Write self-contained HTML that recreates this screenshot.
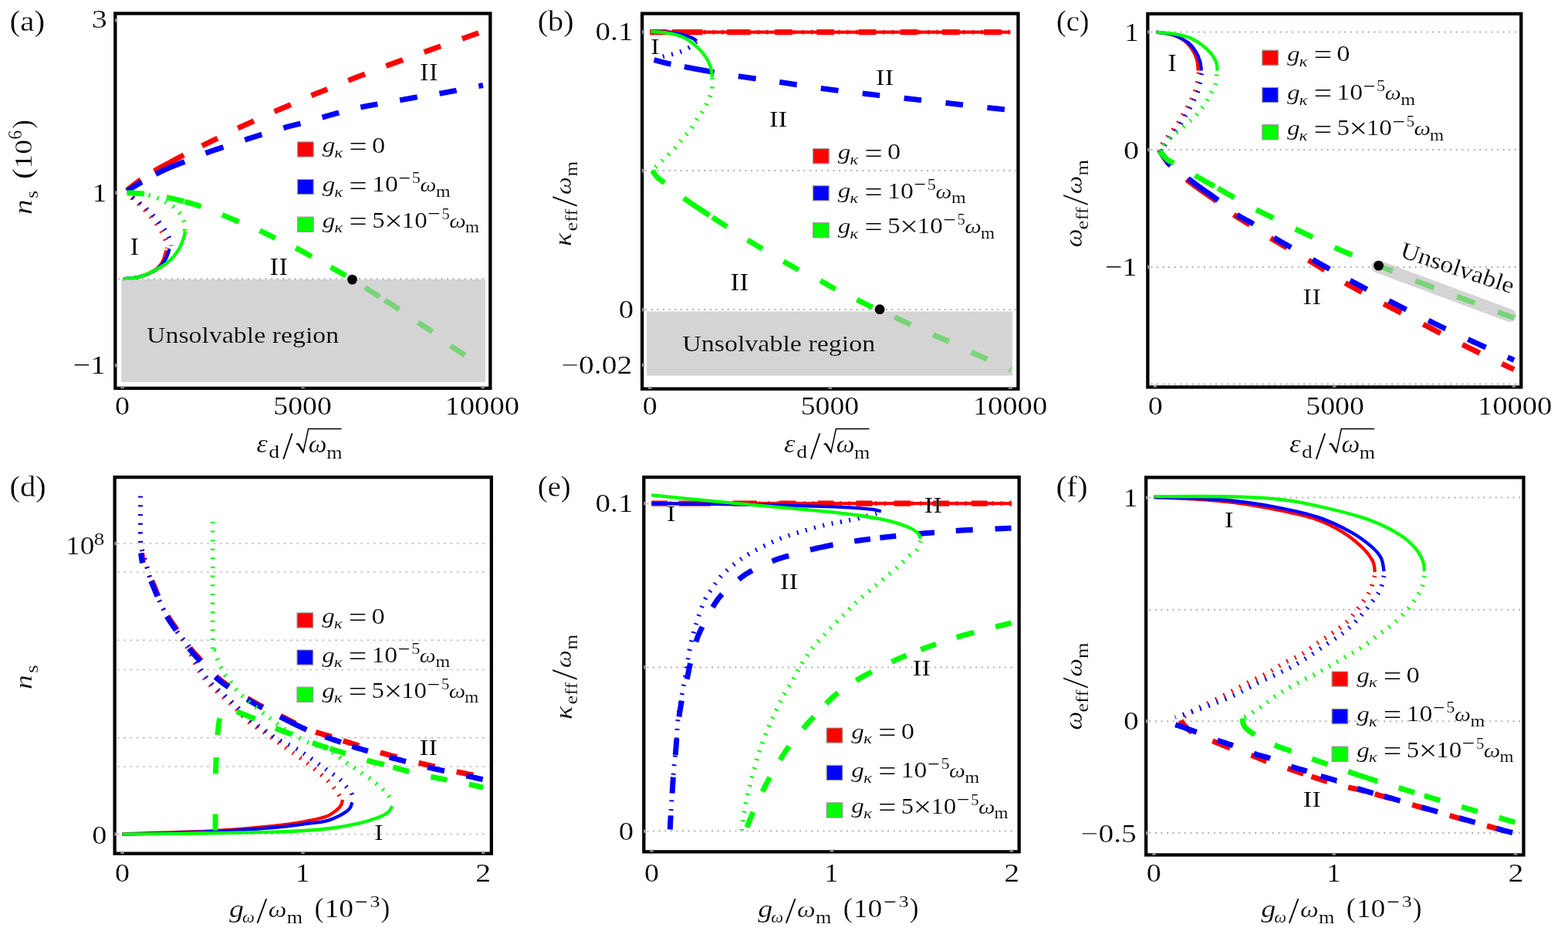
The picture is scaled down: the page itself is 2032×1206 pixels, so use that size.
<!DOCTYPE html>
<html><head><meta charset="utf-8"><title>Figure</title>
<style>html,body{margin:0;padding:0;background:#fff;}svg{display:block;}text{fill:#000;stroke:#fff;stroke-width:0.007em;}text.g{stroke:#d4d4d4;}</style>
</head><body>
<svg width="2032" height="1206" viewBox="0 0 2032 1206" font-family="Liberation Serif, serif">
<rect width="2032" height="1206" fill="#fff"/>
<g fill="none" stroke-linecap="butt" stroke-linejoin="round">
<line x1="153.5" y1="361.2" x2="632.2" y2="361.2" stroke="#b0b0b0" stroke-width="2" stroke-dasharray="2 5.6"/>
<path d="M164.5,246.5 L164.88,246.21 L165.32,245.87 L165.8,245.49 L166.33,245.07 L166.91,244.62 L167.52,244.14 L168.18,243.63 L168.86,243.09 L169.57,242.53 L170.31,241.95 L171.07,241.35 L171.86,240.74 L172.65,240.12 L173.46,239.5 L174.28,238.87 L175.11,238.23 L175.93,237.6 L176.76,236.98 L177.58,236.36 L178.39,235.75 L179.2,235.16 L179.98,234.59 L180.75,234.03 L181.5,233.5 L182.24,232.98 L182.4,232.87 M199.8,221.6 L200.57,221.14 L201.34,220.69 L202.12,220.24 L202.89,219.79 L203.67,219.35 L204.45,218.91 L205.23,218.48 L206.01,218.04 L206.8,217.62 L207.58,217.19 L208.36,216.77 L209.14,216.34 L209.93,215.92 L210.71,215.51 L211.49,215.09 L212.26,214.68 L213.04,214.27 L213.81,213.85 L214.59,213.44 L215.35,213.03 L216.12,212.63 L216.88,212.22 L217.64,211.81 L218.4,211.4 M218.4,211.4 L219.15,211 L219.88,210.6 L220.6,210.21 L221.32,209.82 L222.02,209.44 L222.72,209.06 L223.41,208.68 L224.1,208.31 L224.79,207.94 L225.48,207.57 L226.17,207.2 L226.86,206.82 L227.56,206.45 L228.26,206.07 L228.98,205.69 L229.7,205.31 L230.43,204.92 L231.17,204.53 L231.93,204.13 L232.71,203.72 L233.5,203.3 L234.31,202.88 L235.15,202.44 L236,202 L236.88,201.54 L237.78,201.08 L238.26,200.83 M261.76,188.93 L261.95,188.83 L262.92,188.35 L263.89,187.88 L264.86,187.4 L265.82,186.93 L266.78,186.47 L267.74,186 L268.7,185.54 L269.65,185.07 L270.61,184.61 L271.56,184.15 L272.52,183.69 L273.47,183.23 L274.42,182.77 L275.37,182.31 L276.32,181.85 L277.27,181.39 L278.23,180.93 L279.18,180.47 L280.13,180 L281.09,179.54 L282,179.09 M308.19,166.17 L308.51,166.02 M308.51,166.02 L308.9,165.84 L309.86,165.39 L310.83,164.94 L311.79,164.5 L312.76,164.06 L313.73,163.62 L314.7,163.18 L315.67,162.74 L316.64,162.3 L317.61,161.87 L318.58,161.43 L319.55,161 L320.52,160.56 L321.49,160.13 L322.47,159.69 L323.44,159.25 L324.41,158.81 L325.39,158.37 L326.37,157.93 L327.34,157.49 L328.32,157.05 L329.01,156.73 M355.56,144.58 L355.99,144.39 L356.18,144.31 M356.18,144.31 L356.98,143.97 L357.98,143.54 L358.98,143.11 L359.98,142.69 L360.98,142.27 L361.98,141.85 L362.98,141.43 L363.98,141.01 L364.98,140.59 L365.98,140.17 L366.98,139.75 L367.99,139.33 L368.99,138.91 L369.99,138.49 L370.99,138.07 L371.99,137.65 L373,137.22 L374,136.79 L375,136.37 L376,135.93 L376.9,135.54 M403.42,123.8 L404.03,123.54 L405.05,123.13 L406.06,122.72 L407.08,122.31 L408.1,121.91 L409.11,121.51 L410.13,121.11 L411.15,120.71 L412.17,120.31 L413.19,119.91 L414.21,119.52 L415.23,119.12 L416.25,118.72 L417.27,118.33 L418.29,117.93 L419.31,117.53 L420.33,117.13 L421.35,116.73 L422.36,116.32 L423.38,115.92 L424.34,115.53 M451.29,104.28 L451.52,104.19 L452,104 M452,104 L452.53,103.79 L453.54,103.39 L454.55,102.99 L455.56,102.6 L456.58,102.2 L457.59,101.81 L458.6,101.42 L459.62,101.03 L460.63,100.64 L461.64,100.25 L462.66,99.86 L463.67,99.47 L464.69,99.09 L465.7,98.7 L466.71,98.31 L467.73,97.93 L468.74,97.54 L469.75,97.15 L470.77,96.77 L471.78,96.38 L472.79,95.99 L473,95.91 M500.26,85.46 L501,85.19 M501,85.19 L501.08,85.16 L502.11,84.78 L503.14,84.4 L504.17,84.02 L505.21,83.65 L506.24,83.27 L507.28,82.89 L508.32,82.52 L509.36,82.14 L510.4,81.77 L511.44,81.39 L512.48,81.02 L513.52,80.65 L514.56,80.27 L515.59,79.9 L516.63,79.53 L517.66,79.16 L518.69,78.78 L519.72,78.41 L520.75,78.04 L521.78,77.67 L522.15,77.53 M549.6,67.56 L550.01,67.41 M550.01,67.41 L550.08,67.39 L551.11,67.02 L552.14,66.64 L553.17,66.27 L554.21,65.9 L555.24,65.52 L556.28,65.15 L557.32,64.77 L558.36,64.4 L559.4,64.02 L560.44,63.65 L561.48,63.28 L562.52,62.91 L563.56,62.53 L564.59,62.16 L565.63,61.79 L566.66,61.42 L567.69,61.06 L568.72,60.69 L569.75,60.32 L570.78,59.96 L571.18,59.82 M598.98,50.15 L599.64,49.92 L600.95,49.46 L602.31,48.99 L603.69,48.5 L605.11,48 L606.53,47.5 L607.97,46.99 L609.41,46.48 L610.84,45.98 L612.26,45.48 L613.66,44.98 L615.03,44.5 L616.37,44.03 L617.66,43.57 L618.89,43.13 L620.08,42.72 L620.2,42.67" stroke="#ff0000" stroke-width="7" fill="none" />
<path d="M159.3,361.2 C162.92,360.77 174.38,360.3 181,358.6 C187.62,356.9 194.67,353.35 199,351 C203.33,348.65 204.83,347 207,344.5 C209.17,342 210.6,339.35 212,336 C213.4,332.65 214.83,326.33 215.4,324.4" stroke="#ff0000" stroke-width="4.3" />
<path d="M216.2,321.6 C216.19,320.67 216.77,318.62 216.12,316 C215.48,313.38 213.89,309.28 212.35,305.9 C210.81,302.52 209.18,299.3 206.88,295.7 C204.57,292.1 201.29,287.82 198.5,284.3 C195.71,280.78 192.85,277.58 190.12,274.6 C187.4,271.62 184.94,269.05 182.15,266.4 C179.36,263.75 176.38,261.52 173.38,258.7 C170.37,255.88 165.65,251.03 164.1,249.5" stroke="#ff0000" stroke-width="5.8" stroke-dasharray="2 9.6" stroke-dashoffset="1" />
<path d="M164.5,247.5 L164.92,247.24 L165.4,246.94 L165.94,246.61 L166.54,246.24 L167.18,245.84 L167.86,245.41 L168.59,244.95 L169.35,244.48 L170.15,243.98 L170.97,243.47 L171.82,242.94 L172.69,242.4 L173.57,241.85 L174.47,241.3 L175.37,240.74 L176.28,240.18 L177.19,239.62 L178.09,239.07 L178.99,238.52 L179.87,237.99 L180.74,237.46 L181.59,236.96 L182.41,236.47 L183.2,236 L183.67,235.72 M201.8,225.6 L202.57,225.21 L203.33,224.82 L204.09,224.43 L204.85,224.05 L205.6,223.67 L206.36,223.3 L207.11,222.93 L207.86,222.56 L208.61,222.19 L209.37,221.83 L210.12,221.47 L210.87,221.12 L211.62,220.77 L212.37,220.41 L213.13,220.07 L213.88,219.72 L214.64,219.37 L215.4,219.03 L216.16,218.69 L216.92,218.35 L217.68,218.01 L218.44,217.68 M218.44,217.68 L218.45,217.67 L219.22,217.34 L220,217 L220.77,216.67 L221.53,216.35 L222.28,216.04 L223.02,215.73 L223.75,215.44 L224.48,215.15 L225.2,214.86 L225.93,214.57 L226.66,214.29 L227.39,214.01 L228.12,213.73 L228.87,213.44 L229.62,213.16 L230.39,212.87 L231.17,212.57 L231.96,212.27 L232.77,211.96 L233.6,211.64 L234.45,211.32 L235.33,210.98 L236.23,210.63 L237.16,210.27 L238.11,209.89 L239.1,209.5 L239.35,209.4 M266.43,198.47 L267.06,198.23 L268.2,197.8 M268.2,197.8 L269.32,197.39 L270.42,196.98 L271.51,196.59 L272.58,196.21 L273.65,195.83 L274.7,195.47 L275.74,195.11 L276.78,194.76 L277.81,194.41 L278.83,194.07 L279.85,193.73 L280.86,193.39 L281.87,193.06 L282.88,192.73 L283.88,192.4 L284.89,192.08 L285.89,191.75 L286.89,191.42 L287.9,191.09 L288.91,190.76 L289.5,190.57 M317.17,181.24 L317.9,181 M317.9,181 L318.92,180.67 L319.93,180.34 L320.94,180.01 L321.94,179.69 L322.95,179.37 L323.94,179.05 L324.94,178.73 L325.93,178.41 L326.93,178.1 L327.92,177.79 L328.91,177.47 L329.9,177.16 L330.89,176.85 L331.89,176.54 L332.88,176.23 L333.88,175.92 L334.88,175.61 L335.88,175.3 L336.89,174.98 L337.9,174.67 L338.92,174.35 L339.35,174.22 M367.29,165.72 L367.7,165.6 M367.7,165.6 L368.74,165.31 L369.77,165.02 L370.8,164.74 L371.82,164.46 L372.84,164.19 L373.86,163.92 L374.87,163.65 L375.88,163.39 L376.88,163.12 L377.89,162.86 L378.89,162.61 L379.89,162.35 L380.9,162.09 L381.9,161.84 L382.9,161.58 L383.9,161.33 L384.9,161.07 L385.91,160.81 L386.92,160.55 L387.93,160.29 L388.94,160.02 L389.46,159.88 M417.59,152.04 L418.04,151.91 L419.08,151.61 L420.12,151.32 L421.16,151.02 L422.2,150.73 L423.24,150.43 L424.28,150.13 L425.32,149.84 L426.36,149.54 L427.4,149.24 L428.44,148.95 L429.48,148.65 L430.52,148.35 L431.56,148.06 L432.6,147.77 L433.64,147.47 L434.69,147.18 L435.73,146.89 L436.77,146.61 L437.82,146.32 L438.86,146.04 L439.24,145.93 M467.3,139 L468.34,138.78 L469.37,138.56 L470.4,138.35 L471.43,138.14 L472.45,137.94 L473.47,137.74 L474.49,137.54 L475.5,137.35 L476.52,137.16 L477.53,136.97 L478.55,136.79 L479.56,136.61 L480.58,136.42 L481.6,136.24 L482.62,136.06 L483.64,135.88 L484.67,135.7 L485.7,135.52 L486.73,135.34 L487.77,135.15 L488.82,134.97 L489.41,134.86 M518.17,129.79 L518.7,129.7 M518.7,129.7 L519.8,129.5 L520.91,129.31 L522.02,129.11 L523.13,128.91 L524.24,128.71 L525.35,128.5 L526.45,128.3 L527.56,128.1 L528.67,127.9 L529.78,127.7 L530.88,127.49 L531.99,127.29 L533.09,127.09 L534.19,126.89 L535.29,126.7 L536.38,126.5 L537.47,126.3 L538.56,126.11 L539.65,125.92 L540.73,125.73 L540.84,125.71 M569.5,121.2 L570.54,121.02 L571.57,120.84 L572.6,120.66 L573.63,120.48 L574.65,120.3 L575.68,120.12 L576.7,119.93 L577.72,119.75 L578.75,119.56 L579.78,119.37 L580.81,119.18 L581.84,118.99 L582.89,118.79 L583.93,118.6 L584.99,118.4 L586.06,118.2 L587.13,117.99 L588.21,117.79 L589.31,117.58 L590.42,117.37 L591.54,117.16 L591.63,117.14 M620.3,111.61 L620.99,111.47 M620.99,111.47 L621.47,111.38 L622.56,111.17 L623.57,110.97 L624.48,110.79 L625.3,110.64 L626,110.5" stroke="#0000ff" stroke-width="7" fill="none" />
<path d="M159.3,361.2 C162.92,360.78 174.05,360.48 181,358.7 C187.95,356.92 196.08,353.28 201,350.5 C205.92,347.72 208,344.92 210.5,342 C213,339.08 214.62,335.83 216,333 C217.38,330.17 218.2,326.8 218.8,325 C219.4,323.2 219.47,322.67 219.6,322.2" stroke="#0000ff" stroke-width="4.3" />
<path d="M222.2,318.4 C222.08,317.53 222.33,315.68 221.48,313.2 C220.62,310.72 218.81,306.75 217.05,303.5 C215.29,300.25 213.45,297.17 210.93,293.7 C208.4,290.23 204.91,286.08 201.9,282.7 C198.89,279.32 195.82,276.25 192.88,273.4 C189.93,270.55 187.26,268.12 184.25,265.6 C181.24,263.08 178.05,260.98 174.82,258.3 C171.6,255.62 166.55,250.97 164.9,249.5" stroke="#0000ff" stroke-width="5.8" stroke-dasharray="2 9.6" stroke-dashoffset="1" />
<path d="M159.3,361.2 C162.93,360.77 174.02,360.55 181.1,358.6 C188.18,356.65 195.58,352.77 201.8,349.5 C208.02,346.23 213.57,343.17 218.4,339 C223.23,334.83 227.52,329.67 230.8,324.5 C234.08,319.33 236.6,312.2 238.1,308 C239.6,303.8 239.52,300.75 239.8,299.3" stroke="#00ff00" stroke-width="4.3" />
<path d="M239.6,298.8 C239.45,297.02 239.67,291.68 238.7,288.1 C237.73,284.52 235.87,280.48 233.8,277.3 C231.73,274.12 229.07,271.35 226.3,269 C223.53,266.65 219.97,264.87 217.2,263.2 C214.43,261.53 212.67,260.38 209.7,259 C206.73,257.62 202.98,256.13 199.4,254.9 C195.82,253.67 192.1,252.38 188.2,251.6 C184.3,250.82 179.95,250.55 176,250.2 C172.05,249.85 166.42,249.62 164.5,249.5" stroke="#00ff00" stroke-width="5.8" stroke-dasharray="2 9.6" />
<path d="M164.5,249.8 L165.03,249.83 L165.64,249.86 L166.31,249.9 L167.04,249.93 L167.83,249.96 L168.68,250 L169.57,250.04 L170.51,250.08 L171.5,250.12 L172.52,250.17 L173.57,250.22 L174.65,250.27 L175.76,250.33 L176.88,250.39 L178.02,250.45 L179.17,250.52 L180.33,250.6 L181.5,250.68 L182.66,250.77 L183.81,250.86 L184.96,250.96 L186.09,251.07 L186.96,251.15 M215.79,255.7 L216.3,255.8 M216.3,255.8 L217.35,256.01 L218.38,256.21 L219.4,256.42 L220.4,256.63 L221.39,256.84 L222.36,257.05 L223.33,257.27 L224.28,257.48 L225.23,257.7 L226.16,257.92 L227.09,258.13 L228.02,258.36 L228.94,258.58 L229.86,258.81 L230.77,259.03 L231.69,259.26 L232.6,259.5 L233.51,259.73 L234.43,259.97 L235.35,260.21 L236.28,260.45 L237.21,260.7 L238.15,260.95 L238.2,260.96 M239.1,261.2 L240.05,261.45 L240.99,261.7 L241.93,261.96 L242.86,262.21 L243.8,262.46 L244.72,262.71 L245.65,262.96 L246.58,263.21 L247.5,263.47 L248.43,263.73 L249.36,263.99 L250.29,264.26 L251.23,264.53 L252.17,264.81 L253.12,265.1 L254.07,265.39 L255.03,265.68 L255.99,265.99 L256.97,266.3 L257.95,266.62 L258.95,266.95 L259.95,267.29 L260.68,267.54 M287.8,278.35 L287.87,278.38 L288.9,278.8 M288.9,278.8 L289.9,279.21 L290.88,279.61 L291.84,280 L292.78,280.38 L293.7,280.76 L294.61,281.13 L295.51,281.5 L296.39,281.86 L297.27,282.22 L298.14,282.58 L299,282.93 L299.86,283.29 L300.72,283.64 L301.58,284 L302.45,284.36 L303.32,284.72 L304.2,285.08 L305.08,285.45 L305.98,285.83 L306.89,286.21 L307.81,286.59 L308.76,286.99 L309.7,287.38 M336.6,298.8 L337.56,299.23 L338.49,299.66 L339.39,300.08 L340.28,300.49 L341.15,300.9 L342,301.3 L342.83,301.71 L343.66,302.1 L344.47,302.5 L345.28,302.9 L346.08,303.29 L346.89,303.69 L347.69,304.09 L348.5,304.49 L349.31,304.89 L350.13,305.3 L350.97,305.71 L351.81,306.13 L352.67,306.55 L353.55,306.98 L354.45,307.42 L355.37,307.87 L356.32,308.33 L356.86,308.59 M383.23,321.12 L384.2,321.6 M384.2,321.6 L385.15,322.08 L386.07,322.55 L386.96,323.01 L387.82,323.46 L388.65,323.9 L389.47,324.33 L390.27,324.76 L391.05,325.18 L391.82,325.6 L392.58,326.01 L393.33,326.42 L394.08,326.84 L394.83,327.25 L395.57,327.67 L396.32,328.09 L397.08,328.51 L397.85,328.94 L398.63,329.38 L399.42,329.82 L400.23,330.27 L401.06,330.74 L401.91,331.21 L402.79,331.7 L403.7,332.2 L403.97,332.35 M428.5,346 L429.39,346.5 L430.28,347 L431.16,347.49 L432.03,347.98 L432.88,348.47 L433.73,348.95 L434.57,349.42 L435.4,349.89 L436.22,350.36 L437.02,350.81 L437.81,351.26 L438.59,351.71 L439.36,352.14 L440.11,352.57 L440.85,352.99 L441.58,353.41 L442.29,353.81 L442.98,354.21 L443.66,354.6 L444.32,354.98 L444.97,355.35 L445.6,355.71 L446.21,356.06 L446.8,356.4 L447.36,356.72 L447.89,357.02 L448.06,357.12 M472.96,372.37 L473.8,372.9 L474.69,373.47 L475.62,374.06 L476.58,374.67 L477.56,375.3 L478.57,375.94 L479.6,376.6 L480.65,377.27 L481.71,377.95 L482.79,378.64 L483.88,379.34 L484.97,380.04 L486.07,380.75 L487.17,381.46 L488.27,382.16 L489.37,382.87 L490.46,383.57 L491.54,384.26 L491.91,384.5 M498.6,388.8 L499.51,389.38 L500.39,389.94 L501.25,390.49 L502.1,391.02 L502.92,391.54 L503.73,392.05 L504.52,392.55 L505.31,393.04 L506.08,393.53 L506.85,394.01 L507.61,394.49 L508.37,394.97 L509.13,395.45 L509.89,395.93 L510.65,396.41 L511.41,396.9 L512.19,397.4 L512.97,397.9 L513.77,398.42 L514.58,398.94 L515.41,399.48 L516.25,400.04 L517.11,400.61 L517.56,400.91 M541.7,417.6 L542.59,418.2 L543.46,418.78 L544.31,419.34 L545.14,419.89 L545.97,420.42 L546.77,420.95 L547.57,421.46 L548.36,421.96 L549.14,422.46 L549.92,422.96 L550.69,423.45 L551.46,423.94 L552.23,424.43 L553,424.92 L553.77,425.42 L554.55,425.93 L555.33,426.44 L556.12,426.96 L556.92,427.49 L557.73,428.04 L558.55,428.6 L559.38,429.18 L560.23,429.78 L560.49,429.97 M583.8,447.8 L584.69,448.43 L585.59,449.06 L586.52,449.7 L587.45,450.34 L588.39,450.97 L589.34,451.6 L590.28,452.23 L591.23,452.85 L592.17,453.46 L593.1,454.07 L594.02,454.66 L594.92,455.24 L595.8,455.8 L596.66,456.35 L597.49,456.87 L598.29,457.38 L599.06,457.87 L599.79,458.33 L600.48,458.76 L601.13,459.17 L601.73,459.55 L602.27,459.9 L602.62,460.12" stroke="#00ff00" stroke-width="7" fill="none" />
<rect x="157.3" y="362" width="471.8" height="132.9" fill="rgb(188,188,188)" fill-opacity="0.643"/>
<circle cx="456.5" cy="362.1" r="6.4" fill="#000"/>
<text x="190.07" y="444.43" font-size="28.68" textLength="249.07" lengthAdjust="spacingAndGlyphs" class="g">Unsolvable region</text>
<text x="168.47" y="330" font-size="30.84" textLength="11.69" lengthAdjust="spacingAndGlyphs">I</text>
<text x="349.33" y="356.4" font-size="30.53" textLength="24" lengthAdjust="spacingAndGlyphs">II</text>
<text x="543.83" y="104.4" font-size="30.53" textLength="24" lengthAdjust="spacingAndGlyphs">II</text>
<rect x="385.6" y="183.9" width="20.6" height="19.2" fill="#ff0000" stroke="#9a9a9a" stroke-width="1.2"/>
<rect x="385.6" y="232.5" width="20.6" height="19.2" fill="#0000ff" stroke="#9a9a9a" stroke-width="1.2"/>
<rect x="385.6" y="281.1" width="20.6" height="19.2" fill="#00ff00" stroke="#9a9a9a" stroke-width="1.2"/>
<text x="417.79" y="197.44" font-size="28.18" font-style="italic" textLength="16.62" lengthAdjust="spacingAndGlyphs">g</text>
<text x="433.34" y="204.2" font-size="19.57" font-style="italic" textLength="11.08" lengthAdjust="spacingAndGlyphs">κ</text>
<text x="452.33" y="201.8" font-size="35.6" textLength="23.69" lengthAdjust="spacingAndGlyphs">=</text>
<text x="482.12" y="197.7" font-size="29.63" textLength="17.26" lengthAdjust="spacingAndGlyphs">0</text>
<text x="417.79" y="248.14" font-size="28.18" font-style="italic" textLength="16.62" lengthAdjust="spacingAndGlyphs">g</text>
<text x="433.34" y="254.9" font-size="19.57" font-style="italic" textLength="11.08" lengthAdjust="spacingAndGlyphs">κ</text>
<text x="452.33" y="252.5" font-size="35.6" textLength="23.69" lengthAdjust="spacingAndGlyphs">=</text>
<text x="482.02" y="248.4" font-size="29.63" textLength="33.83" lengthAdjust="spacingAndGlyphs">10</text>
<text x="516.49" y="240.04" font-size="28" textLength="15.89" lengthAdjust="spacingAndGlyphs">−</text>
<text x="533.87" y="237.39" font-size="20.6" textLength="11.12" lengthAdjust="spacingAndGlyphs">5</text>
<text x="544.47" y="248.44" font-size="25.83" font-style="italic" textLength="20.85" lengthAdjust="spacingAndGlyphs">ω</text>
<text x="565.02" y="254.9" font-size="20.64" textLength="18.69" lengthAdjust="spacingAndGlyphs">m</text>
<text x="417.79" y="294.59" font-size="28.18" font-style="italic" textLength="16.62" lengthAdjust="spacingAndGlyphs">g</text>
<text x="433.34" y="301.35" font-size="19.57" font-style="italic" textLength="11.08" lengthAdjust="spacingAndGlyphs">κ</text>
<text x="452.33" y="298.95" font-size="35.6" textLength="23.69" lengthAdjust="spacingAndGlyphs">=</text>
<text x="482.24" y="294.85" font-size="30.08" textLength="16.38" lengthAdjust="spacingAndGlyphs">5</text>
<text x="498" y="298.73" font-size="37.53" textLength="23.95" lengthAdjust="spacingAndGlyphs">×</text>
<text x="520.58" y="294.85" font-size="29.63" textLength="33.14" lengthAdjust="spacingAndGlyphs">10</text>
<text x="554.32" y="286.49" font-size="28" textLength="16.74" lengthAdjust="spacingAndGlyphs">−</text>
<text x="572.57" y="283.84" font-size="20.6">5</text>
<text x="582.38" y="294.89" font-size="25.83" font-style="italic" textLength="21.52" lengthAdjust="spacingAndGlyphs">ω</text>
<text x="602.94" y="301.35" font-size="20.64" textLength="17.96" lengthAdjust="spacingAndGlyphs">m</text>
<line x1="836.3" y1="221.1" x2="1316.3" y2="221.1" stroke="#b0b0b0" stroke-width="2" stroke-dasharray="2 5.6"/>
<line x1="836.3" y1="401" x2="1316.3" y2="401" stroke="#b0b0b0" stroke-width="2" stroke-dasharray="2 5.6"/>
<path d="M842.5,41.6 L1309.4,41.6" stroke="#ff0000" stroke-width="4.3" />
<path d="M842.5,41.6 L861.95,41.6 L865.1,41.6 M871,41.6 L881.41,41.6 L888,41.6 M888,41.6 L900.86,41.6 L910.6,41.6 M942.2,41.6 L950,41.6 M950,41.6 L959.23,41.6 L972.6,41.6 M1004.2,41.6 L1017.59,41.6 L1026.8,41.6 M1058.4,41.6 L1075.95,41.6 L1081,41.6 M1112.6,41.6 L1114.86,41.6 L1134.31,41.6 L1135.2,41.6 M1166.8,41.6 L1173.22,41.6 L1189.4,41.6 M1221,41.6 L1231.58,41.6 L1243.6,41.6 M1275.2,41.6 L1289.95,41.6 L1297.8,41.6" stroke="#ff0000" stroke-width="7.2" fill="none" />
<path d="M842.5,41.6 L1309.4,41.6" stroke="#ff0000" stroke-width="5.8" stroke-dasharray="2 9.6" />
<path d="M847.6,77.6 L847.88,77.67 L848.2,77.76 L848.56,77.86 L848.96,77.97 L849.39,78.08 L849.85,78.21 L850.34,78.34 L850.85,78.48 L851.38,78.62 L851.93,78.77 L852.5,78.92 L853.08,79.08 L853.67,79.24 L854.27,79.4 L854.87,79.56 L855.47,79.72 L856.08,79.88 L856.67,80.04 L857.26,80.19 L857.84,80.35 L858.41,80.49 L858.96,80.64 L859.49,80.77 L860,80.9 L860.49,81.02 L860.98,81.15 L861.45,81.26 L861.92,81.38 L862.39,81.5 L862.85,81.61 L863.31,81.73 L863.76,81.84 L864.21,81.95 L864.66,82.06 L865.12,82.17 L865.57,82.28 L866.02,82.38 L866.48,82.49 L866.95,82.6 L867.42,82.71 L867.89,82.82 L868.38,82.92 L868.87,83.03 L869.37,83.15 L869.5,83.17 M886.8,86.5 L887.46,86.62 L888.11,86.75 L888.74,86.87 L889.38,86.99 L890,87.1 L890.62,87.22 L891.25,87.34 L891.87,87.46 L892.49,87.57 L893.12,87.69 L893.75,87.81 L894.39,87.93 L895.05,88.05 L895.71,88.18 L896.39,88.3 L897.08,88.43 L897.79,88.57 L898.52,88.7 L899.27,88.84 L900.04,88.98 L900.84,89.13 L901.66,89.28 L902.52,89.44 L903.4,89.6 M903.4,89.6 L904.32,89.77 L905.26,89.94 L906.24,90.12 L907.25,90.31 L908.28,90.5 L909.33,90.69 L910.41,90.89 L911.5,91.09 L912.61,91.29 L913.74,91.5 L914.88,91.71 L916.03,91.92 L917.19,92.13 L918.36,92.34 L919.53,92.55 L920.71,92.77 L921.89,92.98 L923.07,93.19 L924.24,93.4 L925.41,93.6 L925.64,93.64 M956.82,98.73 L957.3,98.8 M957.3,98.8 L958.45,98.97 L959.6,99.14 L960.76,99.31 L961.92,99.48 L963.09,99.65 L964.26,99.82 L965.43,99.98 L966.6,100.15 L967.77,100.31 L968.94,100.48 L970.11,100.64 L971.28,100.8 L972.45,100.96 L973.62,101.12 L974.78,101.28 L975.94,101.44 L977.09,101.6 L978.24,101.76 L979.39,101.92 L979.68,101.96 M1010.2,106.3 L1011.29,106.46 L1012.38,106.62 L1013.47,106.79 L1014.57,106.96 L1015.67,107.12 L1016.78,107.29 L1017.89,107.46 L1019,107.63 L1020.12,107.81 L1021.24,107.98 L1022.36,108.15 L1023.48,108.33 L1024.61,108.5 L1025.73,108.67 L1026.86,108.85 L1027.99,109.02 L1029.11,109.2 L1030.24,109.37 L1031.37,109.54 L1032.5,109.72 L1032.54,109.72 M1063.8,114.36 L1064.1,114.4 M1064.1,114.4 L1065.2,114.55 L1066.29,114.7 L1067.38,114.86 L1068.47,115 L1069.54,115.15 L1070.62,115.3 L1071.69,115.44 L1072.76,115.59 L1073.82,115.73 L1074.89,115.87 L1075.95,116.01 L1077.01,116.15 L1078.08,116.29 L1079.14,116.43 L1080.21,116.57 L1081.28,116.7 L1082.35,116.84 L1083.43,116.98 L1084.51,117.12 L1085.59,117.25 L1086.5,117.37 M1117.7,121 L1118.85,121.13 L1119.99,121.27 L1121.14,121.4 L1122.28,121.54 L1123.43,121.67 L1124.57,121.8 L1125.71,121.94 L1126.86,122.07 L1128,122.21 L1129.14,122.34 L1130.28,122.48 L1131.42,122.61 L1132.56,122.75 L1133.69,122.88 L1134.83,123.01 L1135.97,123.15 L1137.1,123.28 L1138.23,123.41 L1139.37,123.55 L1140.15,123.64 M1171.6,127.2 L1172.7,127.32 L1173.8,127.45 L1174.9,127.57 L1176,127.7 L1177.09,127.82 L1178.19,127.95 L1179.28,128.07 L1180.37,128.2 L1181.47,128.32 L1182.56,128.44 L1183.65,128.57 L1184.74,128.69 L1185.84,128.82 L1186.93,128.94 L1188.03,129.07 L1189.13,129.19 L1190.23,129.32 L1191.33,129.44 L1192.43,129.57 L1193.54,129.69 L1194.06,129.75 M1225.5,133.3 L1226.62,133.43 L1227.74,133.55 L1228.85,133.68 L1229.96,133.8 L1231.07,133.93 L1232.17,134.05 L1233.28,134.18 L1234.37,134.3 L1235.47,134.43 L1236.57,134.55 L1237.66,134.68 L1238.76,134.8 L1239.85,134.92 L1240.95,135.05 L1242.04,135.17 L1243.14,135.3 L1244.24,135.42 L1245.34,135.55 L1246.44,135.67 L1247.54,135.8 L1247.96,135.84 M1279.4,139.4 L1280.63,139.53 L1281.9,139.67 L1283.23,139.82 L1284.6,139.96 L1286,140.12 L1287.42,140.27 L1288.86,140.42 L1290.32,140.58 L1291.78,140.73 L1293.23,140.89 L1294.68,141.04 L1296.11,141.19 L1297.52,141.34 L1298.9,141.49 L1300.23,141.63 L1301.53,141.77 L1301.87,141.8" stroke="#0000ff" stroke-width="7" fill="none" />
<path d="M843.3,41.4 C847.1,41.5 859.18,41.43 866.1,42 C873.02,42.57 879.62,43.6 884.8,44.8 C889.98,46 894.2,47.8 897.2,49.2 C900.2,50.6 901.87,52.53 902.8,53.2" stroke="#0000ff" stroke-width="4.3" />
<path d="M902.4,54 C901.4,54.95 899.3,57.75 896.4,59.7 C893.5,61.65 888.9,64.03 885,65.7 C881.1,67.37 877.15,68.48 873,69.7 C868.85,70.92 864.02,71.92 860.1,73 C856.18,74.08 851.27,75.67 849.5,76.2" stroke="#0000ff" stroke-width="5.8" stroke-dasharray="2 9.6" />
<path d="M843.3,41 C847.1,41.3 859.18,41.63 866.1,42.8 C873.02,43.97 879.27,45.58 884.8,48 C890.33,50.42 894.82,53.67 899.3,57.3 C903.78,60.93 908.25,65.3 911.7,69.8 C915.15,74.3 918.1,79.3 920,84.3 C921.9,89.3 922.58,97.22 923.1,99.8" stroke="#00ff00" stroke-width="4.3" />
<path d="M923.1,100.8 C923.1,101.85 923.27,104.15 923.1,107.1 C922.93,110.05 922.97,114.7 922.1,118.5 C921.23,122.3 919.63,125.93 917.9,129.9 C916.17,133.87 913.95,138.5 911.7,142.3 C909.45,146.1 907.17,148.55 904.4,152.7 C901.63,156.85 898.37,162.72 895.1,167.2 C891.83,171.68 888.25,175.45 884.8,179.6 C881.35,183.75 878.2,187.95 874.4,192.1 C870.6,196.25 865.45,201.05 862,204.5 C858.55,207.95 856.3,210.38 853.7,212.8 C851.1,215.22 847.62,217.97 846.4,219" stroke="#00ff00" stroke-width="5.8" stroke-dasharray="2 9.6" />
<path d="M845.4,221.1 L845.54,221.29 L845.69,221.5 L845.85,221.74 L846.03,222 L846.21,222.29 L846.42,222.59 L846.63,222.91 L846.85,223.25 L847.09,223.6 L847.33,223.97 L847.59,224.35 L847.85,224.73 L848.12,225.12 L848.4,225.52 L848.69,225.92 L848.99,226.33 L849.3,226.73 L849.61,227.13 L849.93,227.53 L850.25,227.92 L850.58,228.31 L850.92,228.68 L851.26,229.05 L851.6,229.4 L851.94,229.74 L852.27,230.05 L852.59,230.36 L852.91,230.65 L853.23,230.92 L853.54,231.2 L853.86,231.46 L854.18,231.73 L854.51,231.99 L854.85,232.26 L855.2,232.53 L855.57,232.81 L855.95,233.1 L856.36,233.4 L856.78,233.72 L857.23,234.05 L857.71,234.41 L858.21,234.79 L858.75,235.19 L859.32,235.63 L859.93,236.09 L860.58,236.59 L861.14,237.03 M886.01,256.52 L886.73,257.05 L887.9,257.9 M887.9,257.9 L889.08,258.74 L890.28,259.59 L891.5,260.45 L892.73,261.31 L893.99,262.17 L895.25,263.04 L896.53,263.91 L897.82,264.78 L899.12,265.65 L900.38,266.49 M900.38,266.49 L900.42,266.52 L901.72,267.38 L903.02,268.24 L904.33,269.1 L905.62,269.96 L906.92,270.8 L908.2,271.64 L909.47,272.48 L910.73,273.3 L911.98,274.11 L913.21,274.92 L914.41,275.71 L915.6,276.49 L916.76,277.25 L917.9,278 L919.01,278.73 L919.26,278.9 M923.14,281.44 L923.23,281.5 L924.23,282.16 L925.23,282.8 L926.21,283.44 L927.18,284.07 L928.14,284.69 L929.09,285.31 L930.04,285.92 L930.99,286.54 L931.94,287.15 L932.89,287.76 L933.84,288.37 L934.79,288.99 L935.76,289.61 L936.73,290.23 L937.71,290.87 L938.71,291.51 L939.72,292.16 L940.75,292.82 L941.8,293.5 L942.12,293.71 M968.7,310.8 L969.65,311.39 L970.57,311.96 L971.46,312.51 L972.32,313.04 L973.15,313.55 L973.96,314.04 L974.76,314.52 L975.53,314.99 L976.3,315.44 L977.05,315.89 L977.8,316.34 L978.55,316.78 L979.3,317.22 L980.05,317.66 L980.8,318.11 L981.57,318.56 L982.34,319.02 L983.14,319.48 L983.95,319.96 L984.78,320.45 L985.64,320.96 L986.53,321.49 L987.45,322.03 L988.09,322.41 M1015.3,338.6 L1016.25,339.15 L1017.16,339.67 L1018.04,340.18 L1018.89,340.67 L1019.71,341.14 L1020.51,341.59 L1021.29,342.04 L1022.05,342.47 L1022.8,342.89 L1023.54,343.31 L1024.28,343.72 L1025.01,344.13 L1025.75,344.54 L1026.49,344.95 L1027.24,345.36 L1028,345.77 L1028.78,346.2 L1029.58,346.63 L1030.41,347.07 L1031.26,347.52 L1032.14,347.99 L1033.05,348.47 L1034.01,348.98 L1035,349.5 L1035.07,349.54 M1063.03,363.64 L1063.06,363.66 L1064.1,364.2 L1065.09,364.73 L1066.04,365.24 L1066.96,365.74 L1067.83,366.22 L1068.68,366.7 L1069.5,367.16 L1070.29,367.62 L1071.07,368.07 L1071.83,368.51 L1072.58,368.94 L1073.31,369.38 L1074.04,369.81 L1074.77,370.23 L1075.5,370.66 L1076.24,371.09 L1076.99,371.52 L1077.74,371.96 L1078.52,372.4 L1079.31,372.84 L1080.13,373.29 L1080.97,373.75 L1081.84,374.23 L1082.74,374.7 M1110.5,388.2 L1111.54,388.7 L1112.58,389.22 L1113.63,389.73 L1114.69,390.26 L1115.75,390.78 L1116.81,391.31 L1117.87,391.83 L1118.92,392.36 L1119.97,392.88 L1121,393.4 L1122.03,393.91 L1123.04,394.41 L1124.03,394.9 L1125,395.38 L1125.95,395.84 L1126.88,396.3 L1127.78,396.73 L1128.65,397.15 L1129.48,397.55 L1130.28,397.93 L1130.79,398.16 M1159.48,410.79 L1159.9,411 M1159.9,411 L1160.75,411.41 L1161.59,411.82 L1162.43,412.23 L1163.26,412.63 L1164.09,413.03 L1164.92,413.43 L1165.75,413.82 L1166.57,414.21 L1167.41,414.61 L1168.24,415 L1169.08,415.4 L1169.92,415.79 L1170.78,416.19 L1171.64,416.59 L1172.51,417 L1173.39,417.41 L1174.29,417.82 L1175.2,418.24 L1176.12,418.66 L1177.06,419.1 L1178.01,419.53 L1178.99,419.98 L1179.98,420.44 L1180.36,420.61 M1209.2,433.5 L1210.25,433.96 L1211.27,434.41 L1212.26,434.85 L1213.24,435.27 L1214.2,435.69 L1215.15,436.1 L1216.07,436.5 L1216.99,436.9 L1217.9,437.29 L1218.8,437.67 L1219.7,438.06 L1220.59,438.44 L1221.48,438.83 L1222.37,439.21 L1223.26,439.6 L1224.16,439.99 L1225.07,440.39 L1225.99,440.79 L1226.91,441.2 L1227.86,441.62 L1228.81,442.05 L1229.79,442.49 L1229.91,442.54 M1258.6,456.1 L1259.61,456.56 L1260.61,457.01 L1261.57,457.45 L1262.52,457.87 L1263.46,458.28 L1264.38,458.69 L1265.28,459.08 L1266.18,459.47 L1267.07,459.86 L1267.96,460.24 L1268.84,460.62 L1269.72,461 L1270.6,461.38 L1271.49,461.76 L1272.38,462.15 L1273.29,462.54 L1274.2,462.93 L1275.13,463.34 L1276.07,463.75 L1277.03,464.17 L1278.01,464.61 L1279.01,465.06 L1279.29,465.18 M1307.94,478.53 L1308.58,478.84 L1309.34,479.19 L1310,479.5" stroke="#00ff00" stroke-width="7" fill="none" />
<rect x="838.1" y="403.4" width="474" height="83.2" fill="rgb(188,188,188)" fill-opacity="0.643"/>
<circle cx="1140.1" cy="400.7" r="6.4" fill="#000"/>
<text x="884.19" y="455.01" font-size="28.79" textLength="250.02" lengthAdjust="spacingAndGlyphs" class="g">Unsolvable region</text>
<text x="843.06" y="69.8" font-size="30.23" textLength="11.81" lengthAdjust="spacingAndGlyphs">I</text>
<text x="996.71" y="164.1" font-size="30.08" textLength="23.64" lengthAdjust="spacingAndGlyphs">II</text>
<text x="1134.81" y="110.2" font-size="30.08" textLength="23.64" lengthAdjust="spacingAndGlyphs">II</text>
<text x="946.16" y="376.2" font-size="30.84" textLength="24.24" lengthAdjust="spacingAndGlyphs">II</text>
<rect x="1053.6" y="192.6" width="20.6" height="19.2" fill="#ff0000" stroke="#9a9a9a" stroke-width="1.2"/>
<rect x="1053.6" y="240.7" width="20.6" height="19.2" fill="#0000ff" stroke="#9a9a9a" stroke-width="1.2"/>
<rect x="1053.6" y="288.6" width="20.6" height="19.2" fill="#00ff00" stroke="#9a9a9a" stroke-width="1.2"/>
<text x="1085.79" y="206.14" font-size="28.18" font-style="italic" textLength="16.62" lengthAdjust="spacingAndGlyphs">g</text>
<text x="1101.34" y="212.9" font-size="19.57" font-style="italic" textLength="11.08" lengthAdjust="spacingAndGlyphs">κ</text>
<text x="1120.33" y="210.5" font-size="35.6" textLength="23.69" lengthAdjust="spacingAndGlyphs">=</text>
<text x="1150.12" y="206.4" font-size="29.63" textLength="17.26" lengthAdjust="spacingAndGlyphs">0</text>
<text x="1085.79" y="256.34" font-size="28.18" font-style="italic" textLength="16.62" lengthAdjust="spacingAndGlyphs">g</text>
<text x="1101.34" y="263.1" font-size="19.57" font-style="italic" textLength="11.08" lengthAdjust="spacingAndGlyphs">κ</text>
<text x="1120.33" y="260.7" font-size="35.6" textLength="23.69" lengthAdjust="spacingAndGlyphs">=</text>
<text x="1150.02" y="256.6" font-size="29.63" textLength="33.83" lengthAdjust="spacingAndGlyphs">10</text>
<text x="1184.49" y="248.24" font-size="28" textLength="15.89" lengthAdjust="spacingAndGlyphs">−</text>
<text x="1201.87" y="245.59" font-size="20.6" textLength="11.12" lengthAdjust="spacingAndGlyphs">5</text>
<text x="1212.47" y="256.64" font-size="25.83" font-style="italic" textLength="20.85" lengthAdjust="spacingAndGlyphs">ω</text>
<text x="1233.02" y="263.1" font-size="20.64" textLength="18.69" lengthAdjust="spacingAndGlyphs">m</text>
<text x="1085.79" y="302.09" font-size="28.18" font-style="italic" textLength="16.62" lengthAdjust="spacingAndGlyphs">g</text>
<text x="1101.34" y="308.85" font-size="19.57" font-style="italic" textLength="11.08" lengthAdjust="spacingAndGlyphs">κ</text>
<text x="1120.33" y="306.45" font-size="35.6" textLength="23.69" lengthAdjust="spacingAndGlyphs">=</text>
<text x="1150.24" y="302.35" font-size="30.08" textLength="16.37" lengthAdjust="spacingAndGlyphs">5</text>
<text x="1166" y="306.23" font-size="37.53" textLength="23.95" lengthAdjust="spacingAndGlyphs">×</text>
<text x="1188.58" y="302.35" font-size="29.63" textLength="33.14" lengthAdjust="spacingAndGlyphs">10</text>
<text x="1222.32" y="293.99" font-size="28" textLength="16.74" lengthAdjust="spacingAndGlyphs">−</text>
<text x="1240.57" y="291.34" font-size="20.6">5</text>
<text x="1250.38" y="302.39" font-size="25.83" font-style="italic" textLength="21.52" lengthAdjust="spacingAndGlyphs">ω</text>
<text x="1270.94" y="308.85" font-size="20.64" textLength="17.96" lengthAdjust="spacingAndGlyphs">m</text>
<line x1="1491.5" y1="41.4" x2="1968.1" y2="41.4" stroke="#b0b0b0" stroke-width="2" stroke-dasharray="2 5.6"/>
<line x1="1491.5" y1="193.9" x2="1968.1" y2="193.9" stroke="#b0b0b0" stroke-width="2" stroke-dasharray="2 5.6"/>
<line x1="1491.5" y1="346" x2="1968.1" y2="346" stroke="#b0b0b0" stroke-width="2" stroke-dasharray="2 5.6"/>
<line x1="1491.5" y1="497.6" x2="1968.1" y2="497.6" stroke="#b0b0b0" stroke-width="2" stroke-dasharray="2 5.6"/>
<path d="M1502.4,194.5 L1502.57,194.76 L1502.77,195.06 L1502.99,195.41 L1503.23,195.78 L1503.5,196.19 L1503.78,196.63 L1504.08,197.09 L1504.39,197.58 L1504.72,198.09 L1505.06,198.61 L1505.41,199.15 L1505.76,199.7 L1506.12,200.26 L1506.49,200.82 L1506.86,201.38 L1507.23,201.94 L1507.6,202.5 L1507.96,203.05 L1508.33,203.58 L1508.68,204.11 L1509.03,204.61 L1509.36,205.1 L1509.69,205.56 L1510,206 L1510.29,206.41 L1510.56,206.8 L1510.81,207.17 L1511.04,207.52 L1511.26,207.86 L1511.47,208.18 L1511.67,208.5 L1511.87,208.8 L1512.07,209.11 L1512.27,209.41 L1512.47,209.71 L1512.68,210.01 L1512.9,210.32 L1513.14,210.64 L1513.4,210.97 L1513.67,211.31 L1513.97,211.66 L1514.3,212.04 L1514.66,212.43 L1515.05,212.85 L1515.47,213.29 L1515.94,213.76 L1516.45,214.27 L1516.81,214.61 M1537.7,232.5 L1538.51,233.15 L1539.3,233.78 L1540.08,234.4 L1540.86,235 L1541.62,235.6 L1542.38,236.18 L1543.13,236.76 L1543.87,237.32 L1544.62,237.88 L1545.35,238.44 L1546.09,238.99 L1546.83,239.53 L1547.56,240.07 L1548.3,240.62 L1549.04,241.16 L1549.78,241.7 L1550.53,242.24 L1551.28,242.79 L1552.05,243.34 L1552.82,243.9 L1553.59,244.46 L1554.38,245.03 L1555.19,245.61 L1556,246.2 M1556,246.2 L1556.83,246.79 L1557.66,247.39 L1558.5,247.98 L1559.35,248.58 L1560.2,249.17 L1561.06,249.77 L1561.93,250.37 L1562.8,250.97 L1563.68,251.57 L1564.56,252.18 L1565.45,252.78 L1566.34,253.39 L1567.23,254.01 L1568.12,254.62 L1569.02,255.24 L1569.92,255.86 L1570.82,256.49 L1571.72,257.12 L1572.62,257.75 L1573.52,258.39 L1574.41,259.04 L1575.31,259.69 L1576.21,260.34 L1576.32,260.42 M1598.8,278 L1599.68,278.62 L1600.55,279.23 L1601.4,279.81 L1602.24,280.38 L1603.07,280.93 L1603.89,281.47 L1604.7,282 L1605.51,282.52 L1606.33,283.03 L1607.14,283.54 L1607.95,284.05 L1608.78,284.56 L1609.61,285.07 L1610.45,285.59 L1611.3,286.12 L1612.17,286.65 L1613.06,287.19 L1613.97,287.75 L1614.91,288.32 L1615.86,288.91 L1616.85,289.53 L1617.87,290.16 L1618.92,290.82 L1619.71,291.32 M1646.64,308.42 L1646.8,308.52 L1648.39,309.5 L1650.03,310.49 L1651.7,311.5 L1653.43,312.54 L1655.24,313.61 L1657.1,314.71 L1659.03,315.85 L1661.01,317.01 L1663.04,318.19 L1665.11,319.39 L1667.22,320.61 L1667.98,321.05 M1695.58,337.04 L1697.47,338.16 L1699.46,339.34 L1701.4,340.5 L1703.29,341.64 L1705.14,342.77 L1706.95,343.88 L1708.73,344.99 L1710.49,346.09 L1712.22,347.18 L1713.93,348.26 L1715.62,349.33 L1716.71,350.03 M1743.3,366.5 L1745.24,367.62 L1747.22,368.74 L1749.22,369.87 L1751.24,371.01 L1753.29,372.15 L1755.35,373.3 L1757.44,374.45 L1759.54,375.6 L1761.66,376.76 L1763.8,377.91 L1764.97,378.55 M1793.13,393.54 L1794,394 M1794,394 L1796.11,395.12 L1798.23,396.23 L1800.35,397.35 L1802.46,398.45 L1804.58,399.56 L1806.7,400.66 L1808.81,401.76 L1810.93,402.86 L1813.05,403.95 L1815.16,405.05 L1815.99,405.47 M1844.35,420.07 L1844.8,420.3 M1844.8,420.3 L1846.91,421.39 L1849.03,422.49 L1851.14,423.59 L1853.25,424.69 L1855.37,425.79 L1857.48,426.89 L1859.59,427.99 L1861.7,429.1 L1863.82,430.2 L1865.93,431.3 L1866.8,431.75 M1895.17,446.33 L1895.5,446.5 M1895.5,446.5 L1897.64,447.57 L1899.84,448.67 L1902.08,449.78 L1904.37,450.9 L1906.68,452.04 L1909.01,453.19 L1911.36,454.34 L1913.72,455.49 L1916.08,456.63 L1917.75,457.44 M1946.3,471.2 L1947.64,471.85 L1948.89,472.45 L1950.06,473 L1951.14,473.52 L1952.15,474 L1953.08,474.44 L1953.95,474.85 L1954.74,475.22 L1955.48,475.57 L1956.16,475.88 L1956.79,476.18 L1957.38,476.44 L1957.91,476.69 L1958.41,476.92 L1958.87,477.13 L1959.3,477.32 L1959.7,477.5 L1960.08,477.68 L1960.44,477.84 L1960.79,478 L1961.12,478.15 L1961.45,478.3 L1961.77,478.45 L1962.1,478.6" stroke="#ff0000" stroke-width="7" fill="none" />
<path d="M1498.3,41.6 C1501.75,42.15 1512.78,42.97 1519,44.9 C1525.22,46.83 1531.1,49.75 1535.6,53.2 C1540.1,56.65 1543.4,61.47 1546,65.6 C1548.6,69.73 1550.07,73.68 1551.2,78 C1552.33,82.32 1552.53,89.25 1552.8,91.5" stroke="#ff0000" stroke-width="4.3" />
<path d="M1553.6,93.9 C1553.25,96.17 1552.37,103.33 1551.5,107.5 C1550.63,111.67 1549.78,115.1 1548.4,118.9 C1547.02,122.7 1545.1,126.5 1543.2,130.3 C1541.3,134.1 1539.07,138.07 1537,141.7 C1534.93,145.33 1532.87,148.65 1530.8,152.1 C1528.73,155.55 1526.85,159.12 1524.6,162.4 C1522.35,165.68 1519.72,168.68 1517.3,171.8 C1514.88,174.92 1512.52,177.82 1510.1,181.1 C1507.68,184.38 1504.02,189.77 1502.8,191.5" stroke="#ff0000" stroke-width="5.8" stroke-dasharray="2 9.6" />
<path d="M1502.4,194.5 L1502.57,194.75 L1502.77,195.04 L1502.99,195.37 L1503.23,195.73 L1503.5,196.12 L1503.78,196.54 L1504.08,196.98 L1504.39,197.45 L1504.72,197.94 L1505.06,198.44 L1505.41,198.96 L1505.76,199.48 L1506.12,200.01 L1506.49,200.55 L1506.86,201.09 L1507.23,201.63 L1507.6,202.16 L1507.96,202.68 L1508.33,203.2 L1508.68,203.7 L1509.03,204.18 L1509.36,204.64 L1509.69,205.08 L1510,205.5 L1510.29,205.89 L1510.55,206.26 L1510.8,206.6 L1511.02,206.93 L1511.23,207.25 L1511.42,207.55 L1511.61,207.84 L1511.79,208.12 L1511.97,208.4 L1512.16,208.68 L1512.35,208.96 L1512.55,209.24 L1512.76,209.52 L1512.99,209.82 L1513.24,210.12 L1513.52,210.44 L1513.82,210.78 L1514.15,211.13 L1514.52,211.51 L1514.93,211.91 L1515.37,212.34 L1515.87,212.79 L1516.41,213.28 L1517,213.8 L1517.39,214.14 M1539.8,231.4 L1540.66,232.04 L1541.5,232.67 L1542.33,233.29 L1543.14,233.9 L1543.95,234.5 L1544.74,235.09 L1545.53,235.67 L1546.31,236.24 L1547.08,236.81 L1547.84,237.37 L1548.6,237.93 L1549.36,238.47 L1550.11,239.02 L1550.86,239.56 L1551.6,240.11 L1552.35,240.64 L1553.09,241.18 L1553.84,241.72 L1554.59,242.26 L1555.34,242.8 L1556.1,243.35 L1556.86,243.89 L1557.63,244.44 L1558.4,245 M1558.4,245 L1559.17,245.55 L1559.93,246.09 L1560.68,246.62 L1561.43,247.15 L1562.17,247.66 L1562.9,248.17 L1563.63,248.68 L1564.36,249.19 L1565.09,249.69 L1565.82,250.19 L1566.55,250.7 L1567.29,251.21 L1568.04,251.73 L1568.79,252.25 L1569.56,252.78 L1570.33,253.33 L1571.12,253.88 L1571.92,254.45 L1572.73,255.03 L1573.57,255.62 L1574.42,256.24 L1575.29,256.87 L1576.18,257.52 L1577.1,258.2 L1578.04,258.9 L1578.63,259.35 M1603,278 L1603.98,278.65 L1604.94,279.28 L1605.88,279.87 L1606.8,280.43 L1607.7,280.97 L1608.6,281.49 L1609.48,282 L1610.35,282.48 L1611.21,282.95 L1612.07,283.42 L1612.93,283.87 L1613.78,284.32 L1614.64,284.77 L1615.5,285.23 L1616.36,285.68 L1617.23,286.14 L1618.11,286.61 L1619,287.09 L1619.91,287.59 L1620.83,288.11 L1621.76,288.64 L1622.72,289.2 L1623.7,289.79 L1624.53,290.29 M1651.14,307.86 L1651.7,308.2 M1651.7,308.2 L1653.34,309.18 L1655.05,310.19 L1656.84,311.24 L1658.69,312.31 L1660.6,313.42 L1662.56,314.55 L1664.58,315.71 L1666.64,316.88 L1668.74,318.07 L1670.88,319.28 L1673.04,320.51 L1673.18,320.59 M1701.01,336.18 L1701.4,336.4 M1701.4,336.4 L1703.43,337.54 L1705.46,338.68 L1707.48,339.82 L1709.49,340.95 L1711.49,342.08 L1713.49,343.2 L1715.49,344.33 L1717.48,345.44 L1719.47,346.56 L1721.46,347.68 L1723.02,348.55 M1749.6,363.2 L1751.67,364.31 L1753.74,365.43 L1755.83,366.54 L1757.92,367.66 L1760.02,368.78 L1762.12,369.89 L1764.23,371.01 L1766.34,372.13 L1768.46,373.24 L1770.59,374.36 L1771.5,374.84 M1799.83,389.51 L1800.4,389.8 M1800.4,389.8 L1802.51,390.88 L1804.62,391.96 L1806.73,393.04 L1808.84,394.11 L1810.95,395.18 L1813.06,396.25 L1815.16,397.32 L1817.27,398.39 L1819.37,399.45 L1821.48,400.51 L1822.51,401.03 M1851.1,415.2 L1853.23,416.24 L1855.35,417.27 L1857.47,418.3 L1859.58,419.32 L1861.69,420.34 L1863.8,421.36 L1865.9,422.37 L1868.01,423.38 L1870.12,424.39 L1872.23,425.4 L1873.44,425.98 M1902.31,439.53 L1902.9,439.8 M1902.9,439.8 L1905.27,440.89 L1907.76,442.04 L1910.35,443.22 L1913.02,444.44 L1915.77,445.68 L1918.57,446.95 L1921.41,448.24 L1924.28,449.53 L1925.47,450.07 M1953.76,462.76 L1955.57,463.57 L1957.48,464.43 L1959.22,465.2 L1960.76,465.9 L1962.1,466.5" stroke="#0000ff" stroke-width="7" fill="none" />
<path d="M1498.3,41.6 C1501.92,42.17 1513.08,42.73 1520,45 C1526.92,47.27 1534.78,51.42 1539.8,55.2 C1544.82,58.98 1547.52,63.55 1550.1,67.7 C1552.68,71.85 1554.17,76.13 1555.3,80.1 C1556.43,84.07 1556.63,89.6 1556.9,91.5" stroke="#0000ff" stroke-width="4.3" />
<path d="M1557,95.1 C1556.65,97.37 1555.77,104.53 1554.9,108.7 C1554.03,112.87 1553.18,116.3 1551.8,120.1 C1550.42,123.9 1548.5,127.7 1546.6,131.5 C1544.7,135.3 1542.47,139.27 1540.4,142.9 C1538.33,146.53 1536.27,149.85 1534.2,153.3 C1532.13,156.75 1530.25,160.32 1528,163.6 C1525.75,166.88 1523.12,169.88 1520.7,173 C1518.28,176.12 1515.92,179.02 1513.5,182.3 C1511.08,185.58 1507.42,190.97 1506.2,192.7" stroke="#0000ff" stroke-width="5.8" stroke-dasharray="2 9.6" />
<path d="M1498.3,41.8 C1502.1,42.13 1513.85,42.6 1521.1,43.8 C1528.35,45 1535.93,46.75 1541.8,49 C1547.67,51.25 1551.8,54.02 1556.3,57.3 C1560.8,60.58 1565.52,64.9 1568.8,68.7 C1572.08,72.5 1574.53,76.3 1576,80.1 C1577.47,83.9 1577.33,89.6 1577.6,91.5" stroke="#00ff00" stroke-width="4.3" />
<path d="M1577.1,96.5 C1576.75,98.78 1576.38,106.02 1575,110.2 C1573.62,114.38 1570.87,117.8 1568.8,121.6 C1566.73,125.4 1565.02,129.2 1562.6,133 C1560.18,136.8 1557.07,140.95 1554.3,144.4 C1551.53,147.85 1548.25,151.45 1546,153.7 C1543.75,155.95 1543.22,155.83 1540.8,157.9 C1538.38,159.97 1534.78,163.35 1531.5,166.1 C1528.22,168.85 1524.22,171.63 1521.1,174.4 C1517.98,177.17 1515.57,179.75 1512.8,182.7 C1510.03,185.65 1505.88,190.53 1504.5,192.1" stroke="#00ff00" stroke-width="5.8" stroke-dasharray="2 9.6" />
<path d="M1502.4,195.5 L1502.63,195.75 L1502.9,196.05 L1503.2,196.39 L1503.53,196.77 L1503.89,197.18 L1504.27,197.62 L1504.67,198.08 L1505.1,198.57 L1505.54,199.08 L1506,199.6 L1506.47,200.14 L1506.95,200.68 L1507.44,201.23 L1507.94,201.78 L1508.44,202.33 L1508.95,202.87 L1509.45,203.41 L1509.96,203.93 L1510.45,204.44 L1510.95,204.92 L1511.43,205.39 L1511.9,205.82 L1512.36,206.23 L1512.8,206.6 L1513.22,206.94 L1513.61,207.24 L1513.97,207.51 L1514.32,207.76 L1514.65,207.98 L1514.96,208.18 L1515.27,208.37 L1515.58,208.54 L1515.88,208.71 L1516.19,208.87 L1516.51,209.03 L1516.84,209.19 L1517.18,209.35 L1517.55,209.53 L1517.94,209.71 L1518.36,209.91 L1518.81,210.13 L1519.29,210.37 L1519.82,210.64 L1520.39,210.94 L1521.01,211.27 L1521.1,211.32 M1548.66,227.37 L1549.87,228.07 L1551.05,228.75 L1552.2,229.4 M1552.2,229.4 L1553.32,230.04 L1554.43,230.66 L1555.53,231.28 L1556.62,231.9 L1557.71,232.5 L1558.79,233.1 L1559.86,233.7 L1560.92,234.29 L1561.98,234.87 L1563.03,235.45 L1564.07,236.02 L1565.11,236.59 L1566.14,237.15 L1567.16,237.71 L1568.18,238.27 L1569.19,238.83 L1570.2,239.38 L1571.2,239.93 L1572.19,240.48 L1573.18,241.02 L1573.89,241.42 M1578.12,243.77 L1579,244.27 L1579.92,244.78 L1580.82,245.29 L1581.7,245.8 L1582.58,246.29 L1583.44,246.79 L1584.3,247.27 L1585.15,247.76 L1585.99,248.24 L1586.84,248.73 L1587.69,249.21 L1588.54,249.7 L1589.4,250.19 L1590.26,250.68 L1591.14,251.18 L1592.03,251.69 L1592.93,252.2 L1593.85,252.72 L1594.79,253.25 L1595.76,253.8 L1596.74,254.35 L1597.76,254.92 L1598.8,255.5 L1599.69,256 M1627.9,271.5 L1628.94,272.04 L1629.94,272.56 L1630.92,273.06 L1631.86,273.53 L1632.78,273.99 L1633.67,274.44 L1634.55,274.87 L1635.41,275.29 L1636.26,275.7 L1637.1,276.1 L1637.93,276.5 L1638.76,276.89 L1639.58,277.29 L1640.42,277.68 L1641.25,278.08 L1642.1,278.48 L1642.96,278.89 L1643.84,279.3 L1644.73,279.73 L1645.65,280.17 L1646.59,280.63 L1647.56,281.1 L1648.56,281.59 L1649.6,282.1 L1650.18,282.39 M1678.6,296.6 L1679.66,297.12 L1680.7,297.62 L1681.71,298.1 L1682.7,298.57 L1683.66,299.03 L1684.61,299.48 L1685.54,299.92 L1686.46,300.35 L1687.37,300.78 L1688.27,301.2 L1689.17,301.61 L1690.06,302.03 L1690.95,302.44 L1691.84,302.85 L1692.73,303.26 L1693.64,303.68 L1694.55,304.1 L1695.47,304.53 L1696.41,304.97 L1697.37,305.41 L1698.34,305.86 L1699.33,306.33 L1700.35,306.81 L1701.05,307.14 M1729.5,320.6 L1730.55,321.07 L1731.58,321.53 L1732.57,321.97 L1733.54,322.4 L1734.49,322.82 L1735.42,323.23 L1736.33,323.62 L1737.23,324.01 L1738.13,324.4 L1739.02,324.78 L1739.9,325.16 L1740.79,325.53 L1741.69,325.91 L1742.59,326.28 L1743.5,326.67 L1744.43,327.05 L1745.38,327.44 L1746.35,327.84 L1747.34,328.25 L1748.36,328.68 L1749.42,329.11 L1750.51,329.56 L1751.63,330.02 L1752.32,330.3 M1781.92,342.21 L1783.06,342.67 L1784.3,343.17 L1785.49,343.65 L1786.6,344.1 L1787.64,344.52 L1788.61,344.92 L1789.52,345.29 L1790.37,345.63 L1791.17,345.96 L1791.92,346.27 L1792.63,346.56 L1793.3,346.84 L1793.95,347.1 L1794.58,347.36 L1795.2,347.62 L1795.8,347.87 L1796.4,348.12 L1797.01,348.37 L1797.62,348.62 L1798.25,348.89 L1798.9,349.16 L1799.58,349.44 L1800.3,349.73 L1801.05,350.04 L1801.86,350.37 L1802.71,350.72 L1803.62,351.1 L1804.6,351.5 L1804.87,351.61 M1834.39,363.68 L1835.2,364 M1835.2,364 L1836.31,364.44 L1837.38,364.85 L1838.42,365.26 L1839.43,365.65 L1840.42,366.03 L1841.39,366.4 L1842.34,366.76 L1843.27,367.11 L1844.2,367.46 L1845.11,367.8 L1846.01,368.14 L1846.91,368.48 L1847.81,368.81 L1848.71,369.14 L1849.62,369.48 L1850.54,369.82 L1851.46,370.16 L1852.4,370.51 L1853.36,370.87 L1854.34,371.23 L1855.34,371.61 L1856.36,371.99 L1857.41,372.39 L1858.4,372.76 M1888.1,384.1 L1889.19,384.51 L1890.24,384.9 L1891.27,385.28 L1892.28,385.66 L1893.26,386.02 L1894.22,386.37 L1895.17,386.72 L1896.1,387.06 L1897.02,387.4 L1897.94,387.73 L1898.84,388.06 L1899.75,388.39 L1900.66,388.72 L1901.56,389.05 L1902.48,389.38 L1903.4,389.72 L1904.33,390.06 L1905.28,390.41 L1906.24,390.77 L1907.23,391.13 L1908.23,391.5 L1909.26,391.89 L1910.31,392.29 L1911.37,392.69 M1941,404.2 L1942.06,404.6 L1943.12,404.99 L1944.19,405.39 L1945.25,405.78 L1946.31,406.17 L1947.37,406.55 L1948.41,406.93 L1949.44,407.3 L1950.46,407.67 L1951.46,408.03 L1952.44,408.38 L1953.4,408.72 L1954.33,409.05 L1955.23,409.37 L1956.11,409.68 L1956.94,409.97 L1957.75,410.26 L1958.51,410.53 L1959.23,410.78 L1959.9,411.02 L1960.53,411.24 L1961.11,411.45 L1961.63,411.63 L1962.1,411.8" stroke="#00ff00" stroke-width="7" fill="none" />
<line x1="1785.5" y1="345.2" x2="1956.8" y2="408.8" stroke="rgb(188,188,188)" stroke-opacity="0.643" stroke-width="16.5" stroke-linecap="round"/>
<circle cx="1786.6" cy="344.1" r="6.4" fill="#000"/>
<text x="1512.9" y="92.4" font-size="30.84" textLength="12.12" lengthAdjust="spacingAndGlyphs">I</text>
<text x="1688.39" y="394.3" font-size="30.38" textLength="23.88" lengthAdjust="spacingAndGlyphs">II</text>
<g transform="translate(1813.6,332.6) rotate(18.3)">
<text x="-0.67" y="-0" font-size="30.5" textLength="153.34" lengthAdjust="spacingAndGlyphs">Unsolvable</text>
</g>
<rect x="1635.8" y="65.2" width="20.6" height="19.2" fill="#ff0000" stroke="#9a9a9a" stroke-width="1.2"/>
<rect x="1635.8" y="113.4" width="20.6" height="19.2" fill="#0000ff" stroke="#9a9a9a" stroke-width="1.2"/>
<rect x="1635.8" y="161.65" width="20.6" height="19.2" fill="#00ff00" stroke="#9a9a9a" stroke-width="1.2"/>
<text x="1667.99" y="78.74" font-size="28.18" font-style="italic" textLength="16.62" lengthAdjust="spacingAndGlyphs">g</text>
<text x="1683.54" y="85.5" font-size="19.57" font-style="italic" textLength="11.08" lengthAdjust="spacingAndGlyphs">κ</text>
<text x="1702.53" y="83.1" font-size="35.6" textLength="23.69" lengthAdjust="spacingAndGlyphs">=</text>
<text x="1732.32" y="79" font-size="29.63" textLength="17.26" lengthAdjust="spacingAndGlyphs">0</text>
<text x="1667.99" y="129.04" font-size="28.18" font-style="italic" textLength="16.62" lengthAdjust="spacingAndGlyphs">g</text>
<text x="1683.54" y="135.8" font-size="19.57" font-style="italic" textLength="11.08" lengthAdjust="spacingAndGlyphs">κ</text>
<text x="1702.53" y="133.4" font-size="35.6" textLength="23.69" lengthAdjust="spacingAndGlyphs">=</text>
<text x="1732.22" y="129.3" font-size="29.63" textLength="33.83" lengthAdjust="spacingAndGlyphs">10</text>
<text x="1766.69" y="120.94" font-size="28" textLength="15.89" lengthAdjust="spacingAndGlyphs">−</text>
<text x="1784.07" y="118.29" font-size="20.6" textLength="11.12" lengthAdjust="spacingAndGlyphs">5</text>
<text x="1794.67" y="129.34" font-size="25.83" font-style="italic" textLength="20.85" lengthAdjust="spacingAndGlyphs">ω</text>
<text x="1815.22" y="135.8" font-size="20.64" textLength="18.69" lengthAdjust="spacingAndGlyphs">m</text>
<text x="1667.99" y="175.14" font-size="28.18" font-style="italic" textLength="16.62" lengthAdjust="spacingAndGlyphs">g</text>
<text x="1683.54" y="181.9" font-size="19.57" font-style="italic" textLength="11.08" lengthAdjust="spacingAndGlyphs">κ</text>
<text x="1702.53" y="179.5" font-size="35.6" textLength="23.69" lengthAdjust="spacingAndGlyphs">=</text>
<text x="1732.44" y="175.4" font-size="30.08" textLength="16.37" lengthAdjust="spacingAndGlyphs">5</text>
<text x="1748.2" y="179.28" font-size="37.53" textLength="23.95" lengthAdjust="spacingAndGlyphs">×</text>
<text x="1770.78" y="175.4" font-size="29.63" textLength="33.14" lengthAdjust="spacingAndGlyphs">10</text>
<text x="1804.52" y="167.04" font-size="28" textLength="16.74" lengthAdjust="spacingAndGlyphs">−</text>
<text x="1822.77" y="164.39" font-size="20.6">5</text>
<text x="1832.58" y="175.44" font-size="25.83" font-style="italic" textLength="21.52" lengthAdjust="spacingAndGlyphs">ω</text>
<text x="1853.14" y="181.9" font-size="20.64" textLength="17.96" lengthAdjust="spacingAndGlyphs">m</text>
<line x1="151.8" y1="704" x2="633.7" y2="704" stroke="#c4c4c4" stroke-width="1.6" stroke-dasharray="3 5.3"/>
<line x1="151.8" y1="741.3" x2="633.7" y2="741.3" stroke="#c4c4c4" stroke-width="1.6" stroke-dasharray="3 5.3"/>
<line x1="151.8" y1="829.4" x2="633.7" y2="829.4" stroke="#c4c4c4" stroke-width="1.6" stroke-dasharray="3 5.3"/>
<line x1="151.8" y1="867.5" x2="633.7" y2="867.5" stroke="#c4c4c4" stroke-width="1.6" stroke-dasharray="3 5.3"/>
<line x1="151.8" y1="955.6" x2="633.7" y2="955.6" stroke="#c4c4c4" stroke-width="1.6" stroke-dasharray="3 5.3"/>
<line x1="151.8" y1="993" x2="633.7" y2="993" stroke="#c4c4c4" stroke-width="1.6" stroke-dasharray="3 5.3"/>
<line x1="151.8" y1="1080.6" x2="633.7" y2="1080.6" stroke="#c4c4c4" stroke-width="1.6" stroke-dasharray="3 5.3"/>
<path d="M183.61,716.33 L183.63,716.48 L183.73,717.25 L183.83,718.06 L183.94,718.92 L184.06,719.81 L184.18,720.73 L184.31,721.68 L184.45,722.64 L184.6,723.63 L184.75,724.62 L184.92,725.62 L185.09,726.61 L185.28,727.61 L185.47,728.59 L185.56,729.02 M196.72,752.17 L196.89,752.54 L197.28,753.39 L197.67,754.26 L198.06,755.14 L198.44,756.02 L198.82,756.92 L199.2,757.83 L199.58,758.75 L199.96,759.67 L200.33,760.6 L200.71,761.54 L201.09,762.49 L201.48,763.44 L201.86,764.39 L202.24,765.35 L202.63,766.31 L203.03,767.27 L203.42,768.23 L203.82,769.2 L204.23,770.16 L204.64,771.12 L205.02,772.01 M217.41,797.86 L217.72,798.41 L218.25,799.31 L218.79,800.2 L219.32,801.08 L219.87,801.95 L220.42,802.81 L220.97,803.67 L221.53,804.52 L222.09,805.36 L222.65,806.2 L223.22,807.04 L223.79,807.88 L224.37,808.71 L224.95,809.54 L225.53,810.37 L226.12,811.2 L226.71,812.04 L227.3,812.88 L227.89,813.72 L228.49,814.56 L229.09,815.41 L229.33,815.75 M246.18,839.34 L246.3,839.5 L246.44,839.67 M246.44,839.67 L246.94,840.3 L247.59,841.09 L248.22,841.87 L248.86,842.63 L249.5,843.38 L250.13,844.12 L250.76,844.85 L251.4,845.57 L252.03,846.29 L252.66,847 L253.3,847.7 L253.94,848.41 L254.58,849.11 L255.22,849.8 L255.87,850.5 L256.51,851.2 L257.17,851.91 L257.83,852.61 L258.49,853.32 L259.16,854.04 L259.83,854.77 L260.52,855.5 L260.72,855.73 M279.9,876 L280.67,876.69 L281.43,877.36 L282.2,878.02 L282.96,878.66 L283.72,879.29 L284.48,879.91 L285.24,880.52 L286,881.11 L286.76,881.71 L287.53,882.29 L288.3,882.87 L289.07,883.44 L289.85,884.01 L290.63,884.58 L291.42,885.15 L292.21,885.72 L293.01,886.29 L293.82,886.86 L294.64,887.43 L295.47,888.01 L296.31,888.6 L296.96,889.05 M321.23,904.92 L321.26,904.93 L321.98,905.37 M321.98,905.37 L322.2,905.5 L323.14,906.06 L324.07,906.61 L325,907.16 L325.93,907.7 L326.85,908.24 L327.78,908.76 L328.7,909.29 L329.61,909.8 L330.53,910.31 L331.44,910.82 L332.35,911.32 L333.26,911.82 L334.16,912.31 L335.06,912.8 L335.96,913.28 L336.85,913.76 L337.74,914.24 L338.63,914.71 L339.52,915.18 L340.4,915.65 L340.76,915.84 M363.58,927.34 L363.9,927.5 L364.97,928.04 L366.1,928.6 L367.28,929.2 L368.51,929.82 L369.77,930.46 L371.07,931.11 L372.39,931.79 L373.74,932.47 L375.11,933.16 L376.49,933.86 L377.87,934.56 L379.26,935.26 L380.64,935.96 L382.01,936.65 L382.77,937.03 M409.1,948.3 L409.88,948.56 L410.69,948.82 L411.53,949.08 L412.4,949.35 L413.29,949.62 L414.2,949.89 L415.13,950.17 L416.07,950.44 L417.02,950.72 L417.98,951 L418.94,951.28 L419.91,951.56 L420.88,951.83 L421.84,952.11 L422.8,952.38 L423.74,952.66 L424.68,952.93 L425.6,953.19 L426.49,953.45 L427.37,953.71 L428.22,953.97 L429.05,954.22 L429.71,954.42 M444.7,959.6 L445.45,959.84 L446.22,960.09 L447,960.34 L447.8,960.59 L448.61,960.84 L449.44,961.1 L450.28,961.36 L451.13,961.63 L452,961.89 L452.88,962.16 L453.77,962.44 L454.67,962.71 L455.59,962.99 L456.52,963.28 L457.45,963.56 L458.4,963.85 L459.36,964.15 L460.32,964.44 L461.3,964.74 L462.28,965.05 L463.28,965.35 L464.28,965.67 L465.24,965.97 M492.86,974.78 L493.6,975 M493.6,975 L494.6,975.3 L495.58,975.59 L496.53,975.87 L497.46,976.14 L498.37,976.41 L499.27,976.66 L500.15,976.91 L501.01,977.16 L501.87,977.4 L502.72,977.63 L503.56,977.86 L504.4,978.09 L505.24,978.32 L506.08,978.55 L506.93,978.78 L507.79,979.01 L508.65,979.24 L509.53,979.48 L510.43,979.72 L511.34,979.96 L512.27,980.21 L513.22,980.47 L514.2,980.73 L514.31,980.76 M542.5,988.2 L543.5,988.45 L544.48,988.69 L545.43,988.92 L546.35,989.14 L547.26,989.36 L548.15,989.57 L549.02,989.77 L549.88,989.97 L550.73,990.17 L551.57,990.36 L552.41,990.55 L553.24,990.74 L554.08,990.93 L554.92,991.11 L555.77,991.3 L556.62,991.5 L557.49,991.69 L558.37,991.89 L559.27,992.09 L560.18,992.3 L561.12,992.51 L562.09,992.73 L563.08,992.96 L563.45,993.05 M591.68,999.67 L592.3,999.8 M592.3,999.8 L593.63,1000.08 L595.04,1000.38 L596.5,1000.68 L598.02,1000.99 L599.59,1001.3 L601.19,1001.62 L602.82,1001.95 L604.46,1002.27 L606.12,1002.6 L607.78,1002.92 L609.43,1003.25 L611.06,1003.56 L612.67,1003.87 L613.38,1004.01" stroke="#ff0000" stroke-width="7" fill="none" />
<path d="M158.3,1080.3 C177.65,1079.63 241.23,1078.07 274.4,1076.3 C307.57,1074.53 336.37,1071.88 357.3,1069.7 C378.23,1067.52 389.02,1065.23 400,1063.2 C410.98,1061.17 417.13,1059.83 423.2,1057.5 C429.27,1055.17 433.23,1051.68 436.4,1049.2 C439.57,1046.72 440.95,1044.8 442.2,1042.6 C443.45,1040.4 443.62,1037.1 443.9,1036" stroke="#ff0000" stroke-width="4.3" />
<path d="M182.1,642.8 C182.1,652.33 181.78,688.47 182.1,700 C182.42,711.53 182.78,706.85 184,712 C185.22,717.15 187.47,724.12 189.4,730.9 C191.33,737.68 193.02,745.45 195.6,752.7 C198.18,759.95 201.45,766.85 204.9,774.4 C208.35,781.95 212.12,790.57 216.3,798 C220.48,805.43 225.42,811.87 230,819 C234.58,826.13 239.28,832.73 243.8,840.8 C248.32,848.87 252.38,859.63 257.1,867.4 C261.82,875.17 266.83,881.57 272.1,887.4 C277.37,893.23 283.18,897.42 288.7,902.4 C294.22,907.38 299.82,912.05 305.2,917.3 C310.58,922.55 315.27,928.98 321,933.9 C326.73,938.82 333.52,942.57 339.6,946.8 C345.68,951.03 351.63,955.13 357.5,959.3 C363.37,963.47 368.48,967.3 374.8,971.8 C381.12,976.3 388.4,980.97 395.4,986.3 C402.4,991.63 411.23,998.88 416.8,1003.8 C422.37,1008.72 425.45,1012.05 428.8,1015.8 C432.15,1019.55 434.73,1023.22 436.9,1026.3 C439.07,1029.38 440.98,1032.97 441.8,1034.3" stroke="#ff0000" stroke-width="5.8" stroke-dasharray="2 9.6" />
<path d="M182.59,716.46 L182.63,716.76 L182.73,717.48 L182.83,718.25 L182.93,719.06 L183.04,719.92 L183.16,720.81 L183.28,721.73 L183.41,722.68 L183.55,723.64 L183.7,724.63 L183.85,725.62 L184.02,726.62 L184.19,727.61 L184.38,728.61 L184.51,729.26 M195.6,752.7 L195.99,753.54 L196.38,754.39 L196.77,755.26 L197.16,756.14 L197.54,757.02 L197.92,757.92 L198.3,758.83 L198.68,759.75 L199.06,760.67 L199.43,761.6 L199.81,762.54 L200.19,763.49 L200.58,764.44 L200.96,765.39 L201.34,766.35 L201.73,767.31 L202.13,768.27 L202.52,769.23 L202.92,770.2 L203.33,771.16 L203.74,772.12 L203.91,772.53 M216.3,798.5 L216.82,799.41 L217.35,800.31 L217.89,801.2 L218.42,802.08 L218.97,802.95 L219.52,803.81 L220.07,804.67 L220.63,805.52 L221.19,806.36 L221.75,807.2 L222.32,808.04 L222.89,808.88 L223.47,809.71 L224.05,810.54 L224.63,811.37 L225.22,812.2 L225.81,813.04 L226.4,813.88 L226.99,814.72 L227.59,815.56 L228.19,816.4 M245.02,840.01 L245.4,840.5 M245.4,840.5 L246.04,841.3 L246.69,842.09 L247.32,842.87 L247.96,843.63 L248.6,844.38 L249.23,845.12 L249.86,845.85 L250.5,846.57 L251.13,847.29 L251.76,848 L252.4,848.7 L253.04,849.41 L253.68,850.11 L254.32,850.8 L254.97,851.5 L255.61,852.2 L256.27,852.91 L256.93,853.61 L257.59,854.32 L258.26,855.04 L258.93,855.77 L259.62,856.5 L259.68,856.57 M279,877 L279.77,877.69 L280.53,878.36 L281.3,879.02 L282.06,879.66 L282.82,880.29 L283.58,880.91 L284.34,881.52 L285.1,882.11 L285.86,882.71 L286.63,883.29 L287.4,883.87 L288.17,884.44 L288.95,885.01 L289.73,885.58 L290.52,886.15 L291.31,886.72 L292.11,887.29 L292.92,887.86 L293.74,888.43 L294.57,889.01 L295.41,889.6 L296.06,890.05 M320.33,905.92 L320.36,905.93 L321.3,906.5 M321.3,906.5 L322.24,907.06 L323.17,907.61 L324.1,908.16 L325.03,908.7 L325.95,909.24 L326.88,909.76 L327.8,910.29 L328.71,910.8 L329.63,911.31 L330.54,911.82 L331.45,912.32 L332.36,912.82 L333.26,913.31 L334.16,913.8 L335.06,914.28 L335.95,914.76 L336.84,915.24 L337.73,915.71 L338.62,916.18 L339.5,916.65 L340.08,916.96 M363,928.5 L364.08,929.04 L365.21,929.6 L366.37,930.19 L367.57,930.8 L368.8,931.42 L370.06,932.06 L371.34,932.72 L372.65,933.38 L373.97,934.06 L375.31,934.74 L376.67,935.42 L377.96,936.08 M377.96,936.08 L378.03,936.11 L379.4,936.8 L380.77,937.49 L382.15,938.17 L383.52,938.85 L384.88,939.52 L386.24,940.18 L387.58,940.83 L388.91,941.46 L390.22,942.08 L391.5,942.67 L392.77,943.25 L394,943.8 L395.22,944.33 L396.44,944.86 L397.39,945.26 M421.5,954.4 L422.5,954.77 L423.48,955.13 L424.46,955.48 L425.42,955.82 L426.37,956.16 L427.31,956.49 L428.23,956.81 L429.15,957.13 L430.05,957.44 L430.94,957.74 L431.82,958.04 L432.69,958.34 L433.54,958.63 L434.39,958.91 L435.22,959.2 L436.04,959.47 L436.85,959.75 L437.65,960.02 L438.44,960.29 L439.21,960.56 L439.97,960.82 L440.73,961.08 L441.47,961.34 L441.81,961.46 M456.3,966.8 L457.05,967.04 L457.82,967.29 L458.6,967.54 L459.4,967.79 L460.21,968.05 L461.04,968.31 L461.88,968.56 L462.73,968.83 L463.6,969.09 L464.48,969.36 L465.37,969.62 L466.28,969.89 L467.19,970.17 L468.12,970.44 L469.05,970.72 L470,971 L470.96,971.28 L471.92,971.56 L472.9,971.85 L473.88,972.13 L474.88,972.42 L475.88,972.71 L476.88,973 M504.79,980.89 L505.2,981 M505.2,981 L506.2,981.27 L507.18,981.53 L508.13,981.79 L509.05,982.03 L509.96,982.27 L510.85,982.51 L511.72,982.73 L512.58,982.96 L513.43,983.17 L514.27,983.39 L515.11,983.61 L515.94,983.82 L516.78,984.03 L517.62,984.25 L518.47,984.46 L519.32,984.68 L520.19,984.9 L521.07,985.12 L521.97,985.35 L522.88,985.59 L523.82,985.83 L524.79,986.08 L525.78,986.33 L526.01,986.39 M554.06,993.77 L555,994 M555,994 L556.02,994.25 L557,994.49 L557.96,994.71 L558.89,994.93 L559.8,995.15 L560.69,995.35 L561.56,995.55 L562.41,995.74 L563.26,995.93 L564.09,996.11 L564.92,996.3 L565.75,996.48 L566.58,996.65 L567.41,996.83 L568.24,997.01 L569.09,997.19 L569.94,997.38 L570.81,997.56 L571.7,997.75 L572.61,997.95 L573.54,998.15 L574.5,998.36 L575.48,998.58 L575.98,998.69 M604.31,1004.91 L604.7,1005 M604.7,1005 L605.74,1005.23 L606.79,1005.46 L607.86,1005.7 L608.92,1005.94 L609.99,1006.17 L611.05,1006.41 L612.11,1006.65 L613.16,1006.88 L614.2,1007.11 L615.22,1007.34 L616.23,1007.57 L617.21,1007.79 L618.17,1008 L619.11,1008.21 L620.01,1008.41 L620.87,1008.61 L621.7,1008.79 L622.49,1008.97 L623.24,1009.14 L623.94,1009.29 L624.59,1009.44 L625.18,1009.57 L625.68,1009.68" stroke="#0000ff" stroke-width="7" fill="none" />
<path d="M158.3,1080.8 C177.65,1080.2 241.23,1078.7 274.4,1077.2 C307.57,1075.7 336.37,1073.57 357.3,1071.8 C378.23,1070.03 389.02,1068.02 400,1066.6 C410.98,1065.18 416.3,1065.1 423.2,1063.3 C430.1,1061.5 436.43,1058.43 441.4,1055.8 C446.37,1053.17 450.52,1050.25 453,1047.5 C455.48,1044.75 455.75,1040.67 456.3,1039.3" stroke="#0000ff" stroke-width="4.3" />
<path d="M182.1,642.8 C182.1,652.33 181.78,688.47 182.1,700 C182.42,711.53 182.78,706.85 184,712 C185.22,717.15 187.47,724.12 189.4,730.9 C191.33,737.68 193.02,745.45 195.6,752.7 C198.18,759.95 201.45,766.85 204.9,774.4 C208.35,781.95 212.12,790.57 216.3,798 C220.48,805.43 225.02,812.13 230,819 C234.98,825.87 241.28,831.4 246.2,839.2 C251.12,847 254.78,858.03 259.5,865.8 C264.22,873.57 269.23,879.97 274.5,885.8 C279.77,891.63 285.58,895.82 291.1,900.8 C296.62,905.78 302.22,910.45 307.6,915.7 C312.98,920.95 317.67,927.38 323.4,932.3 C329.13,937.22 335.92,940.97 342,945.2 C348.08,949.43 353.7,954.03 359.9,957.7 C366.1,961.37 372.88,963.68 379.2,967.2 C385.52,970.72 391.13,974.3 397.8,978.8 C404.47,983.3 412.28,989.23 419.2,994.2 C426.12,999.17 434.57,1004.68 439.3,1008.6 C444.03,1012.52 444.98,1014.65 447.6,1017.7 C450.22,1020.75 453.4,1024.07 455,1026.9 C456.6,1029.73 456.83,1033.4 457.2,1034.7" stroke="#0000ff" stroke-width="5.8" stroke-dasharray="2 9.6" />
<path d="M158.3,1080.6 C178.58,1080.37 248.05,1079.67 280,1079.2 C311.95,1078.73 330.83,1078.33 350,1077.8 C369.17,1077.27 381.98,1076.8 395,1076 C408.02,1075.2 416.5,1074.57 428.1,1073 C439.7,1071.43 454.37,1068.9 464.6,1066.6 C474.83,1064.3 483.15,1061.55 489.5,1059.2 C495.85,1056.85 499.53,1055 502.7,1052.5 C505.87,1050 507.53,1045.58 508.5,1044.2" stroke="#00ff00" stroke-width="4.3" />
<path d="M275.8,676 C275.8,701.83 275.53,803.25 275.8,831 C276.07,858.75 276.45,838.78 277.4,842.5 C278.35,846.22 280.12,849.85 281.5,853.3 C282.88,856.75 284.03,859.75 285.7,863.2 C287.37,866.65 289.45,870.87 291.5,874 C293.55,877.13 295.92,879.2 298,882 C300.08,884.8 301.77,888.02 304,890.8 C306.23,893.58 308.85,896.15 311.4,898.7 C313.95,901.25 316.53,903.68 319.3,906.1 C322.07,908.52 325.03,910.85 328,913.2 C330.97,915.55 334.2,917.85 337.1,920.2 C340,922.55 342.5,925.02 345.4,927.3 C348.3,929.58 351.05,931.37 354.5,933.9 C357.95,936.43 361.68,939.48 366.1,942.5 C370.52,945.52 375.2,948.67 381,952 C386.8,955.33 394.7,959.75 400.9,962.5 C407.1,965.25 413.67,966.77 418.2,968.5 C422.73,970.23 425.07,971.33 428.1,972.9 C431.13,974.47 433.35,975.68 436.4,977.9 C439.45,980.12 443.08,983.72 446.4,986.2 C449.72,988.68 452.72,990.32 456.3,992.8 C459.88,995.28 463.48,998.05 467.9,1001.1 C472.32,1004.15 478.65,1008.05 482.8,1011.1 C486.95,1014.15 489.48,1016.37 492.8,1019.4 C496.12,1022.43 500.08,1025.98 502.7,1029.3 C505.32,1032.62 507.53,1037.63 508.5,1039.3" stroke="#00ff00" stroke-width="5.8" stroke-dasharray="2 9.6" />
<path d="M279.1,1076 L279.1,1074.95 L279.1,1073.73 L279.1,1072.34 L279.1,1070.81 L279.09,1069.14 L279.09,1067.36 L279.09,1065.47 L279.09,1063.48 L279.08,1061.42 L279.08,1059.28 L279.08,1057.1 L279.08,1054.88 L279.07,1054.5 M279.44,1002.4 L279.44,1002.27 L279.47,1001.14 L279.5,1000 L279.53,998.86 L279.57,997.74 L279.6,996.62 L279.64,995.53 L279.68,994.44 L279.72,993.36 L279.76,992.29 L279.8,991.24 L279.85,990.19 L279.89,989.15 L279.94,988.11 L279.99,987.09 L280.04,986.07 L280.08,985.05 L280.13,984.04 L280.19,983.03 L280.24,982.02 L280.29,981.02 L280.29,980.92 M281.97,951.97 L282,951.61 M282,951.61 L282,951.6 L282.08,950.7 L282.17,949.8 L282.25,948.9 L282.34,948 L282.42,947.1 L282.51,946.2 L282.6,945.3 L282.7,944.41 L282.79,943.53 L282.89,942.65 L282.99,941.79 L283.09,940.93 L283.19,940.09 L283.3,939.26 L283.4,938.44 L283.51,937.64 L283.63,936.86 L283.74,936.1 L283.86,935.36 L283.98,934.64 L284.11,933.94 L284.24,933.27 L284.37,932.62 L284.5,932 L284.64,931.41 L284.77,930.84 L284.9,930.33 M306.92,921.66 L307.16,921.78 L307.56,921.97 L307.99,922.17 L308.45,922.37 L308.94,922.59 L309.45,922.82 L310.01,923.05 L310.6,923.3 M310.6,923.3 L311.23,923.56 L311.88,923.82 L312.57,924.1 L313.28,924.38 L314.02,924.67 L314.79,924.97 L315.58,925.28 L316.39,925.6 L317.22,925.92 L318.07,926.25 L318.94,926.59 L319.83,926.94 L320.73,927.29 L321.65,927.65 L322.58,928.02 L323.52,928.39 L324.47,928.77 L325.43,929.16 L326.4,929.55 L327.37,929.95 L328.35,930.35 L329.33,930.76 L330.32,931.18 L330.56,931.28 M356.98,943.25 L357.8,943.6 M357.8,943.6 L358.75,944 L359.67,944.37 L360.55,944.73 L361.41,945.07 L362.25,945.39 L363.07,945.71 L363.87,946.01 L364.65,946.3 L365.43,946.58 L366.19,946.86 L366.95,947.14 L367.71,947.41 L368.46,947.68 L369.23,947.95 L369.99,948.22 L370.77,948.5 L371.56,948.78 L372.37,949.08 L373.19,949.38 L374.04,949.69 L374.91,950.02 L375.81,950.36 L376.74,950.72 L377.7,951.1 L377.91,951.19 M404.9,962.2 L405.93,962.58 L406.94,962.95 L407.94,963.31 L408.92,963.66 L409.89,964 L410.86,964.33 L411.81,964.65 L412.75,964.97 L413.69,965.28 L414.61,965.58 L415.53,965.88 L416.45,966.18 L417.36,966.47 L418.27,966.75 L419.17,967.04 L420.07,967.32 L420.97,967.6 L421.87,967.89 L422.77,968.17 L423.67,968.45 L424.57,968.73 L425.3,968.97 M427.3,969.6 L428.21,969.89 L429.11,970.18 L429.99,970.45 L430.87,970.73 L431.74,971 L432.6,971.27 L433.46,971.53 L434.32,971.8 L435.17,972.06 L436.03,972.32 L436.88,972.58 L437.74,972.84 L438.61,973.11 L439.48,973.37 L440.36,973.64 L441.25,973.91 L442.15,974.19 L443.06,974.47 L443.99,974.76 L444.93,975.05 L445.89,975.35 L446.87,975.66 L447.84,975.96 M475.41,984.93 L475.96,985.1 L477,985.4 M477,985.4 L478.01,985.69 L479.02,985.97 L480.01,986.23 L481,986.49 L481.97,986.74 L482.93,986.98 L483.88,987.21 L484.81,987.43 L485.74,987.65 L486.65,987.86 L487.55,988.06 L488.43,988.26 L489.3,988.45 L490.16,988.64 L490.99,988.82 L491.82,989 L492.63,989.18 L493.42,989.36 L494.19,989.53 L494.95,989.71 L495.69,989.88 L496.41,990.05 L497.12,990.23 L497.8,990.4 L497.9,990.43 M509.4,993.8 L510.08,993.99 L510.78,994.18 L511.5,994.38 L512.24,994.58 L512.99,994.79 L513.76,995 L514.55,995.21 L515.35,995.43 L516.17,995.65 L517,995.88 L517.85,996.11 L518.71,996.34 L519.59,996.57 L520.48,996.81 L521.39,997.05 L522.31,997.29 L523.24,997.54 L524.18,997.78 L525.14,998.03 L526.11,998.28 L527.09,998.54 L528.08,998.79 L529.09,999.04 L530.1,999.3 L530.18,999.32 M558.3,1006.1 L559.32,1006.33 L560.3,1006.54 L561.26,1006.75 L562.18,1006.94 L563.09,1007.13 L563.97,1007.32 L564.84,1007.49 L565.69,1007.66 L566.52,1007.83 L567.35,1007.99 L568.18,1008.15 L569,1008.31 L569.82,1008.47 L570.65,1008.63 L571.48,1008.79 L572.33,1008.95 L573.18,1009.11 L574.05,1009.28 L574.95,1009.45 L575.86,1009.63 L576.8,1009.81 L577.77,1010 L578.77,1010.19 L579.38,1010.32 M607.82,1015.99 L608.8,1016.2 M608.8,1016.2 L609.76,1016.4 L610.71,1016.61 L611.65,1016.81 L612.57,1017.02 L613.48,1017.22 L614.37,1017.42 L615.25,1017.62 L616.1,1017.81 L616.94,1018.01 L617.75,1018.2 L618.54,1018.38 L619.31,1018.56 L620.05,1018.74 L620.77,1018.91 L621.46,1019.07 L622.12,1019.23 L622.75,1019.38 L623.35,1019.52 L623.91,1019.66 L624.44,1019.79 L624.94,1019.9 L625.4,1020.01 L625.82,1020.11 L626.2,1020.2" stroke="#00ff00" stroke-width="7" fill="none" />
<text x="485" y="1087.6" font-size="30.23" textLength="11.44" lengthAdjust="spacingAndGlyphs">I</text>
<text x="543.51" y="978.4" font-size="30.08" textLength="23.64" lengthAdjust="spacingAndGlyphs">II</text>
<rect x="385" y="793.9" width="20.6" height="19.2" fill="#ff0000" stroke="#9a9a9a" stroke-width="1.2"/>
<rect x="385" y="842" width="20.6" height="19.2" fill="#0000ff" stroke="#9a9a9a" stroke-width="1.2"/>
<rect x="385" y="890.2" width="20.6" height="19.2" fill="#00ff00" stroke="#9a9a9a" stroke-width="1.2"/>
<text x="417.19" y="807.44" font-size="28.18" font-style="italic" textLength="16.62" lengthAdjust="spacingAndGlyphs">g</text>
<text x="432.74" y="814.2" font-size="19.57" font-style="italic" textLength="11.08" lengthAdjust="spacingAndGlyphs">κ</text>
<text x="451.73" y="811.8" font-size="35.6" textLength="23.69" lengthAdjust="spacingAndGlyphs">=</text>
<text x="481.52" y="807.7" font-size="29.63" textLength="17.26" lengthAdjust="spacingAndGlyphs">0</text>
<text x="417.19" y="857.64" font-size="28.18" font-style="italic" textLength="16.62" lengthAdjust="spacingAndGlyphs">g</text>
<text x="432.74" y="864.4" font-size="19.57" font-style="italic" textLength="11.08" lengthAdjust="spacingAndGlyphs">κ</text>
<text x="451.73" y="862" font-size="35.6" textLength="23.69" lengthAdjust="spacingAndGlyphs">=</text>
<text x="481.42" y="857.9" font-size="29.63" textLength="33.83" lengthAdjust="spacingAndGlyphs">10</text>
<text x="515.89" y="849.54" font-size="28" textLength="15.89" lengthAdjust="spacingAndGlyphs">−</text>
<text x="533.26" y="846.89" font-size="20.6" textLength="11.13" lengthAdjust="spacingAndGlyphs">5</text>
<text x="543.87" y="857.94" font-size="25.83" font-style="italic" textLength="20.85" lengthAdjust="spacingAndGlyphs">ω</text>
<text x="564.42" y="864.4" font-size="20.64" textLength="18.69" lengthAdjust="spacingAndGlyphs">m</text>
<text x="417.19" y="903.69" font-size="28.18" font-style="italic" textLength="16.62" lengthAdjust="spacingAndGlyphs">g</text>
<text x="432.74" y="910.45" font-size="19.57" font-style="italic" textLength="11.08" lengthAdjust="spacingAndGlyphs">κ</text>
<text x="451.73" y="908.05" font-size="35.6" textLength="23.69" lengthAdjust="spacingAndGlyphs">=</text>
<text x="481.63" y="903.95" font-size="30.08" textLength="16.38" lengthAdjust="spacingAndGlyphs">5</text>
<text x="497.4" y="907.83" font-size="37.53" textLength="23.95" lengthAdjust="spacingAndGlyphs">×</text>
<text x="519.98" y="903.95" font-size="29.63" textLength="33.14" lengthAdjust="spacingAndGlyphs">10</text>
<text x="553.72" y="895.59" font-size="28" textLength="16.74" lengthAdjust="spacingAndGlyphs">−</text>
<text x="571.97" y="892.94" font-size="20.6">5</text>
<text x="581.78" y="903.99" font-size="25.83" font-style="italic" textLength="21.52" lengthAdjust="spacingAndGlyphs">ω</text>
<text x="602.34" y="910.45" font-size="20.64" textLength="17.96" lengthAdjust="spacingAndGlyphs">m</text>
<line x1="838.5" y1="652.2" x2="1317.5" y2="652.2" stroke="#b0b0b0" stroke-width="2" stroke-dasharray="2 5.6"/>
<line x1="838.5" y1="864.4" x2="1317.5" y2="864.4" stroke="#b0b0b0" stroke-width="2" stroke-dasharray="2 5.6"/>
<line x1="838.5" y1="1076.6" x2="1317.5" y2="1076.6" stroke="#b0b0b0" stroke-width="2" stroke-dasharray="2 5.6"/>
<path d="M844.5,652.2 L1310.5,652.2" stroke="#ff0000" stroke-width="4.3" />
<path d="M844.5,652.2 L863.92,652.2 L865.5,652.2 M880,652.2 L883.33,652.2 L900,652.2 M900,652.2 L902.75,652.2 L921,652.2 M949.8,652.2 L960,652.2 M960,652.2 L961,652.2 L980.42,652.2 L981,652.2 M1009.8,652.2 L1019.25,652.2 L1030.8,652.2 M1059.6,652.2 L1077.5,652.2 L1080.6,652.2 M1109.4,652.2 L1116.33,652.2 L1130.4,652.2 M1159.2,652.2 L1174.58,652.2 L1180.2,652.2 M1209,652.2 L1213.42,652.2 L1230,652.2 M1258.8,652.2 L1271.67,652.2 L1279.8,652.2 M1308.6,652.2 L1310.5,652.2" stroke="#ff0000" stroke-width="7.2" fill="none" />
<path d="M844.5,652.2 L1310.5,652.2" stroke="#ff0000" stroke-width="5.8" stroke-dasharray="2 9.6" />
<path d="M844.3,652.2 C863.58,652.4 922.38,652.73 960,653.4 C997.62,654.07 1044.75,655.4 1070,656.2 C1095.25,657 1101.13,657.53 1111.5,658.2 C1121.87,658.87 1127.15,659.48 1132.2,660.2 C1137.25,660.92 1140.2,662.12 1141.8,662.5" stroke="#0000ff" stroke-width="4.3" />
<path d="M1136,665.2 C1132.08,666.23 1119.87,669.67 1112.5,671.4 C1105.13,673.13 1098.88,674.2 1091.8,675.6 C1084.72,677 1078.08,677.87 1070,679.8 C1061.92,681.73 1052.58,684.42 1043.3,687.2 C1034.02,689.98 1022.6,693.4 1014.3,696.5 C1006,699.6 1000.42,702.52 993.5,705.8 C986.58,709.08 979.35,712.4 972.8,716.2 C966.25,720 960.42,723.77 954.2,728.6 C947.98,733.43 940.68,739.67 935.5,745.2 C930.32,750.73 926.9,756.27 923.1,761.8 C919.3,767.33 915.82,771.83 912.7,778.4 C909.58,784.97 906.82,793.95 904.4,801.2 C901.98,808.45 900.1,814.65 898.2,821.9 C896.3,829.15 894.38,837.43 893,844.7 C891.62,851.97 891.15,857.95 889.9,865.5 C888.65,873.05 886.82,882.58 885.5,890 C884.18,897.42 883.17,902.9 882,910 C880.83,917.1 879.43,923.67 878.5,932.6 C877.57,941.53 877.27,953.25 876.4,963.6 C875.53,973.95 874.17,984.33 873.3,994.7 C872.43,1005.07 871.88,1015.43 871.2,1025.8 C870.52,1036.17 869.72,1048.78 869.2,1056.9 C868.68,1065.02 868.28,1071.57 868.1,1074.5" stroke="#0000ff" stroke-width="5.8" stroke-dasharray="2 9.6" />
<path d="M1310.5,684.1 L1310.04,684.12 L1309.52,684.15 L1308.96,684.18 L1308.34,684.21 L1307.68,684.24 L1306.98,684.27 L1306.23,684.31 L1305.45,684.35 L1304.63,684.39 L1303.77,684.44 L1302.89,684.48 L1301.98,684.53 L1301.04,684.57 L1300.07,684.62 L1299.09,684.67 L1298.09,684.71 L1297.07,684.76 L1296.03,684.81 L1294.99,684.86 L1293.94,684.91 L1292.88,684.96 L1291.82,685.01 L1290.76,685.05 L1289.7,685.1 L1289.52,685.11 M1260.75,686.25 L1259.7,686.3 M1259.7,686.3 L1258.69,686.35 L1257.73,686.39 L1256.81,686.43 L1255.93,686.47 L1255.08,686.51 L1254.27,686.55 L1253.48,686.59 L1252.71,686.63 L1251.97,686.66 L1251.23,686.7 L1250.51,686.74 L1249.79,686.77 L1249.07,686.81 L1248.35,686.85 L1247.62,686.9 L1246.87,686.94 L1246.12,686.99 L1245.34,687.04 L1244.53,687.09 L1243.7,687.14 L1242.84,687.2 L1241.93,687.26 L1240.99,687.33 L1240,687.4 L1238.96,687.48 L1238.73,687.49 M1211,689.8 L1210.03,689.88 L1209.12,689.95 L1208.25,690.02 L1207.43,690.08 L1206.64,690.15 L1205.89,690.2 L1205.17,690.26 L1204.46,690.31 L1203.78,690.36 L1203.11,690.41 L1202.44,690.46 L1201.78,690.51 L1201.12,690.56 L1200.45,690.61 L1199.77,690.67 L1199.07,690.72 L1198.35,690.78 L1197.61,690.84 L1196.83,690.91 L1196.02,690.97 L1195.16,691.05 L1194.26,691.13 L1193.31,691.21 L1192.3,691.3 L1191.23,691.4 L1190.11,691.5 L1190.07,691.5 M1161.2,694.3 L1160.16,694.41 L1159.14,694.51 L1158.15,694.62 L1157.19,694.72 L1156.25,694.82 L1155.33,694.92 L1154.43,695.02 L1153.56,695.11 L1152.71,695.21 L1151.87,695.3 L1151.05,695.39 L1150.25,695.48 L1149.46,695.57 L1148.69,695.66 L1147.93,695.75 L1147.19,695.83 L1146.45,695.92 L1145.72,696 L1145,696.09 L1144.29,696.17 L1143.59,696.25 L1142.89,696.34 L1142.19,696.42 L1141.5,696.5 L1140.82,696.58 L1140.33,696.64 M1128,698.2 L1127.31,698.29 L1126.61,698.38 L1125.9,698.47 L1125.19,698.57 L1124.47,698.66 L1123.74,698.75 L1123.01,698.85 L1122.26,698.94 L1121.5,699.04 L1120.73,699.14 L1119.95,699.25 L1119.16,699.35 L1118.35,699.46 L1117.53,699.57 L1116.69,699.68 L1115.84,699.8 L1114.97,699.92 L1114.09,700.05 L1113.19,700.18 L1112.27,700.31 L1111.33,700.45 L1110.37,700.59 L1109.4,700.74 L1108.4,700.9 L1107.38,701.06 L1107.2,701.09 M1079.6,705.8 L1078.37,706.04 L1077.13,706.28 L1075.89,706.52 L1074.65,706.77 L1073.4,707.02 L1072.14,707.28 L1070.88,707.53 L1070.5,707.61 M1070.5,707.61 L1069.62,707.79 L1068.36,708.05 L1067.09,708.31 L1065.83,708.58 L1064.56,708.85 L1063.3,709.12 L1062.03,709.4 L1060.76,709.67 L1059.5,709.96 L1058.24,710.24 L1056.98,710.52 L1055.72,710.81 L1054.47,711.11 L1053.22,711.4 L1051.97,711.7 L1050.73,712 L1050.01,712.18 M1022.26,719.88 L1021.51,720.1 L1020.5,720.4 M1020.5,720.4 L1019.53,720.69 L1018.61,720.96 L1017.73,721.21 L1016.88,721.46 L1016.07,721.69 L1015.29,721.92 L1014.54,722.13 L1013.81,722.34 L1013.09,722.55 L1012.39,722.76 L1011.7,722.97 L1011.02,723.17 L1010.34,723.39 L1009.65,723.61 L1008.96,723.83 L1008.26,724.07 L1007.54,724.31 L1006.81,724.57 L1006.05,724.85 L1005.27,725.14 L1004.46,725.44 L1003.61,725.77 L1002.73,726.13 L1001.8,726.5 L1000.83,726.9 L1000.58,727 M974.9,739 L974.02,739.48 L973.17,739.93 L972.37,740.37 L971.6,740.8 L970.86,741.22 L970.15,741.62 L969.46,742.02 L968.8,742.41 L968.15,742.81 L967.52,743.2 L966.89,743.59 L966.28,743.98 L965.67,744.38 L965.06,744.79 L964.45,745.21 L963.84,745.64 L963.21,746.09 L962.57,746.55 L961.92,747.03 L961.25,747.53 L960.55,748.06 L959.83,748.61 L959.08,749.19 L958.3,749.8 L957.48,750.44 L957.39,750.52 M935.89,769.65 L935.8,769.74 L935.14,770.45 L934.51,771.15 L933.9,771.83 L933.32,772.49 L932.76,773.15 L932.23,773.79 L931.71,774.43 L931.21,775.07 L930.72,775.7 L930.25,776.33 L929.78,776.97 L929.32,777.61 L928.87,778.26 L928.42,778.92 L927.97,779.59 L927.51,780.28 L927.06,780.98 L926.59,781.7 L926.12,782.45 L925.64,783.22 L925.14,784.02 L924.63,784.84 L924.1,785.7 L923.56,786.59 M910.09,812.04 L909.72,812.79 L909.31,813.64 L908.9,814.47 L908.51,815.27 L908.13,816.05 L907.77,816.82 L907.41,817.57 L907.06,818.31 L906.72,819.05 L906.38,819.78 L906.06,820.51 L905.73,821.24 L905.42,821.97 L905.1,822.71 L904.79,823.46 L904.48,824.23 L904.18,825.01 L903.87,825.81 L903.56,826.63 L903.25,827.48 L902.94,828.35 L902.62,829.26 L902.3,830.2 L901.98,831.18 L901.92,831.36 M894.58,859.2 L894.44,859.77 L894.25,860.64 L894.06,861.49 L893.88,862.32 L893.71,863.13 L893.54,863.93 L893.38,864.71 L893.22,865.48 L893.07,866.25 L892.92,867.01 L892.77,867.77 L892.62,868.53 L892.47,869.29 L892.31,870.05 L892.16,870.82 L892,871.6 L891.83,872.39 L891.66,873.2 L891.49,874.02 L891.3,874.86 L891.11,875.72 L890.9,876.6 L890.69,877.5 L890.46,878.41 L890.23,879.33 L890.14,879.72 M883.43,907.72 L883.34,908.21 L883.14,909.26 L882.95,910.3 L882.76,911.35 L882.57,912.4 L882.38,913.45 L882.2,914.5 L882.02,915.55 L881.84,916.61 L881.66,917.66 L881.49,918.71 L881.32,919.76 L881.15,920.81 L880.98,921.86 L880.82,922.91 L880.66,923.96 L880.5,925 L880.35,926.04 L880.19,927.08 L880.05,928.12 L880,928.44 M876.88,957.06 L876.85,957.45 L876.77,958.53 L876.69,959.61 L876.61,960.69 L876.53,961.76 L876.45,962.83 L876.37,963.9 L876.3,964.96 L876.22,966.01 L876.14,967.06 L876.07,968.1 L875.99,969.12 L875.91,970.14 L875.83,971.14 L875.75,972.13 L875.67,973.1 L875.59,974.06 L875.5,975 L875.41,975.91 L875.32,976.79 L875.23,977.64 L875.19,978 M872.43,1006.66 L872.41,1006.85 L872.33,1008.19 L872.24,1009.54 L872.15,1010.9 L872.06,1012.26 L871.98,1013.64 L871.89,1015.01 L871.8,1016.39 L871.72,1017.76 L871.63,1019.12 L871.54,1020.48 L871.46,1021.83 L871.37,1023.17 L871.29,1024.49 L871.2,1025.8 L871.11,1027.11 L871.08,1027.61 M869.23,1056.35 L869.2,1056.9 L869.14,1057.91 L869.08,1058.9 L869.03,1059.87 L868.98,1060.82 L868.93,1061.75 L868.88,1062.66 L868.83,1063.55 L868.79,1064.42 L868.74,1065.26 L868.7,1066.08 L868.66,1066.88 L868.63,1067.64 L868.59,1068.38 L868.56,1069.1 L868.52,1069.78 L868.49,1070.44 L868.46,1071.06 L868.44,1071.65 L868.41,1072.21 L868.39,1072.74 L868.36,1073.23 L868.34,1073.69 L868.32,1074.11 L868.3,1074.5" stroke="#0000ff" stroke-width="7" fill="none" />
<path d="M844.3,641.4 C863.58,643.27 922.38,649.07 960,652.6 C997.62,656.13 1044.75,660.12 1070,662.6 C1095.25,665.08 1099.4,665.82 1111.5,667.5 C1123.6,669.18 1133.97,670.97 1142.6,672.7 C1151.23,674.43 1157.08,676 1163.3,677.9 C1169.52,679.8 1175.58,682.03 1179.9,684.1 C1184.22,686.17 1186.97,688.05 1189.2,690.3 C1191.43,692.55 1192.62,696.38 1193.3,697.6" stroke="#00ff00" stroke-width="4.3" />
<path d="M1193.3,701 C1192.45,702.85 1190.78,708.87 1188.2,712.1 C1185.62,715.33 1181.6,716.95 1177.8,720.4 C1174,723.85 1169.55,729 1165.4,732.8 C1161.25,736.6 1157.4,739.4 1152.9,743.2 C1148.4,747 1142.88,751.8 1138.4,755.6 C1133.92,759.4 1130.48,762.2 1126,766 C1121.52,769.8 1116,774.27 1111.5,778.4 C1107,782.53 1103.5,786.32 1099,790.8 C1094.5,795.28 1089.33,800.35 1084.5,805.3 C1079.67,810.25 1075.42,814.63 1070,820.5 C1064.58,826.37 1057.48,833.4 1052,840.5 C1046.52,847.6 1041.32,856.22 1037.1,863.1 C1032.88,869.98 1030.22,875.65 1026.7,881.8 C1023.18,887.95 1019.45,893.62 1016,900 C1012.55,906.38 1009.4,912.95 1006,920.1 C1002.6,927.25 999.05,934.6 995.6,942.9 C992.15,951.2 988.07,961.95 985.3,969.9 C982.53,977.85 981.43,981.97 979,990.6 C976.57,999.23 973.12,1011.68 970.7,1021.7 C968.28,1031.72 966.05,1041.73 964.5,1050.7 C962.95,1059.67 961.92,1071.37 961.4,1075.5" stroke="#00ff00" stroke-width="5.8" stroke-dasharray="2 9.6" />
<path d="M1310.5,807 L1309.99,807.12 L1309.41,807.27 L1308.78,807.42 L1308.08,807.59 L1307.33,807.77 L1306.52,807.97 L1305.67,808.17 L1304.78,808.39 L1303.85,808.62 L1302.88,808.85 L1301.88,809.09 L1300.85,809.34 L1299.8,809.6 L1298.72,809.86 L1297.63,810.13 L1296.53,810.4 L1295.42,810.67 L1294.3,810.95 L1293.18,811.23 L1292.06,811.5 L1290.95,811.78 L1290.1,811.99 M1262.22,819.22 L1261.76,819.35 L1260.71,819.63 L1259.7,819.9 M1259.7,819.9 L1258.73,820.16 L1257.79,820.42 L1256.89,820.66 L1256.02,820.89 L1255.18,821.12 L1254.36,821.34 L1253.57,821.56 L1252.79,821.77 L1252.03,821.98 L1251.27,822.19 L1250.53,822.39 L1249.79,822.6 L1249.05,822.81 L1248.31,823.02 L1247.56,823.23 L1246.8,823.45 L1246.03,823.68 L1245.24,823.91 L1244.44,824.15 L1243.61,824.4 L1242.76,824.65 L1241.87,824.92 L1240.95,825.2 L1240,825.5 L1239.51,825.65 M1213,834.4 L1212.07,834.72 L1211.16,835.03 L1210.28,835.33 L1209.43,835.62 L1208.6,835.9 L1207.79,836.18 L1206.99,836.45 L1206.22,836.72 L1205.46,836.99 L1204.71,837.25 L1203.97,837.51 L1203.24,837.76 L1202.52,838.02 L1201.8,838.27 L1201.09,838.53 L1200.37,838.79 L1199.65,839.05 L1198.93,839.31 L1198.2,839.58 L1197.47,839.85 L1196.72,840.13 L1195.96,840.41 L1195.19,840.7 L1194.4,841 L1193.6,841.3 L1193.22,841.45 M1174.7,848.9 L1173.91,849.23 L1173.14,849.56 L1172.38,849.88 L1171.63,850.19 L1170.9,850.51 L1170.17,850.81 L1169.45,851.12 L1168.74,851.43 L1168.02,851.73 L1167.31,852.04 L1166.59,852.35 L1165.87,852.67 L1165.14,852.99 L1164.4,853.32 L1163.65,853.65 L1162.89,854 L1162.1,854.35 L1161.31,854.71 L1160.49,855.09 L1159.64,855.48 L1158.78,855.89 L1157.88,856.31 L1156.96,856.74 L1156,857.2 L1155.51,857.43 M1129.74,870.29 L1129.04,870.65 L1128,871.2 M1128,871.2 L1126.99,871.73 L1126,872.25 L1125.04,872.76 L1124.09,873.27 L1123.17,873.76 L1122.26,874.25 L1121.36,874.73 L1120.48,875.2 L1119.61,875.68 L1118.75,876.15 L1117.9,876.61 L1117.06,877.08 L1116.23,877.55 L1115.4,878.02 L1114.57,878.49 L1113.74,878.96 L1112.91,879.44 L1112.09,879.93 L1111.25,880.42 L1110.42,880.91 L1109.64,881.38 M1086,897.3 L1085.24,897.9 L1084.49,898.51 L1083.76,899.11 L1083.04,899.71 L1082.33,900.31 L1081.63,900.91 L1080.95,901.51 L1080.27,902.11 L1079.6,902.71 L1078.94,903.31 L1078.29,903.91 L1077.64,904.52 L1077,905.13 L1076.36,905.73 L1075.73,906.35 L1075.1,906.96 L1074.46,907.58 L1073.83,908.2 L1073.2,908.82 L1072.57,909.45 L1071.93,910.08 L1071.29,910.71 L1070.65,911.35 L1070.53,911.48 M1054.7,928.4 L1054.11,929.05 L1053.53,929.68 L1052.96,930.29 L1052.4,930.9 L1051.86,931.49 L1051.32,932.07 L1050.78,932.65 L1050.26,933.23 L1049.73,933.8 L1049.21,934.37 L1048.68,934.94 L1048.16,935.52 L1047.63,936.1 L1047.1,936.69 L1046.56,937.29 L1046.01,937.91 L1045.46,938.54 L1044.89,939.18 L1044.31,939.84 L1043.72,940.52 L1043.12,941.23 L1042.5,941.96 L1041.86,942.72 L1041.2,943.5 L1040.72,944.07 M1022.6,966.8 L1022.01,967.59 L1021.46,968.34 L1020.94,969.05 L1020.44,969.73 L1019.97,970.38 L1019.52,971.01 L1019.09,971.61 L1018.68,972.2 L1018.28,972.78 L1017.89,973.35 L1017.52,973.91 L1017.14,974.46 L1016.78,975.02 L1016.41,975.58 L1016.04,976.16 L1015.67,976.74 L1015.29,977.34 L1014.9,977.96 L1014.49,978.6 L1014.08,979.27 L1013.64,979.98 L1013.18,980.71 L1012.7,981.48 L1012.2,982.3 L1011.67,983.16 L1011.12,984.06 L1010.98,984.28 M997.7,1007 L997.22,1007.87 L996.75,1008.69 L996.31,1009.49 L995.89,1010.25 L995.48,1010.99 L995.08,1011.71 L994.7,1012.4 L994.33,1013.09 L993.97,1013.75 L993.62,1014.41 L993.27,1015.07 L992.92,1015.73 L992.58,1016.38 L992.24,1017.05 L991.89,1017.72 L991.54,1018.4 L991.19,1019.11 L990.83,1019.83 L990.46,1020.58 L990.08,1021.35 L989.68,1022.16 L989.27,1023 L988.84,1023.88 L988.4,1024.8 L988.01,1025.62 M976.1,1051.84 L975.9,1052.3 M975.9,1052.3 L975.47,1053.29 L975.04,1054.29 L974.62,1055.28 L974.2,1056.27 L973.78,1057.25 L973.38,1058.22 L972.98,1059.18 L972.58,1060.14 L972.19,1061.08 L971.81,1062 L971.44,1062.91 L971.08,1063.81 L970.73,1064.68 L970.38,1065.53 L970.05,1066.36 L969.73,1067.16 L969.42,1067.94 L969.12,1068.69 L968.83,1069.41 L968.56,1070.1 L968.3,1070.75 L968.05,1071.37 L967.91,1071.72" stroke="#00ff00" stroke-width="7" fill="none" />
<text x="863.76" y="674.8" font-size="30.23" textLength="11.81" lengthAdjust="spacingAndGlyphs">I</text>
<text x="1010.71" y="762.9" font-size="30.08" textLength="23.64" lengthAdjust="spacingAndGlyphs">II</text>
<text x="1197.51" y="664.4" font-size="30.08" textLength="23.64" lengthAdjust="spacingAndGlyphs">II</text>
<text x="1182.45" y="874.6" font-size="30.23" textLength="23.76" lengthAdjust="spacingAndGlyphs">II</text>
<rect x="1071.2" y="943" width="20.6" height="19.2" fill="#ff0000" stroke="#9a9a9a" stroke-width="1.2"/>
<rect x="1071.2" y="991.4" width="20.6" height="19.2" fill="#0000ff" stroke="#9a9a9a" stroke-width="1.2"/>
<rect x="1071.2" y="1039.9" width="20.6" height="19.2" fill="#00ff00" stroke="#9a9a9a" stroke-width="1.2"/>
<text x="1103.39" y="956.54" font-size="28.18" font-style="italic" textLength="16.62" lengthAdjust="spacingAndGlyphs">g</text>
<text x="1118.94" y="963.3" font-size="19.57" font-style="italic" textLength="11.08" lengthAdjust="spacingAndGlyphs">κ</text>
<text x="1137.93" y="960.9" font-size="35.6" textLength="23.69" lengthAdjust="spacingAndGlyphs">=</text>
<text x="1167.72" y="956.8" font-size="29.63" textLength="17.26" lengthAdjust="spacingAndGlyphs">0</text>
<text x="1103.39" y="1007.04" font-size="28.18" font-style="italic" textLength="16.62" lengthAdjust="spacingAndGlyphs">g</text>
<text x="1118.94" y="1013.8" font-size="19.57" font-style="italic" textLength="11.08" lengthAdjust="spacingAndGlyphs">κ</text>
<text x="1137.93" y="1011.4" font-size="35.6" textLength="23.69" lengthAdjust="spacingAndGlyphs">=</text>
<text x="1167.62" y="1007.3" font-size="29.63" textLength="33.83" lengthAdjust="spacingAndGlyphs">10</text>
<text x="1202.09" y="998.94" font-size="28" textLength="15.89" lengthAdjust="spacingAndGlyphs">−</text>
<text x="1219.46" y="996.29" font-size="20.6" textLength="11.12" lengthAdjust="spacingAndGlyphs">5</text>
<text x="1230.07" y="1007.34" font-size="25.83" font-style="italic" textLength="20.85" lengthAdjust="spacingAndGlyphs">ω</text>
<text x="1250.62" y="1013.8" font-size="20.64" textLength="18.69" lengthAdjust="spacingAndGlyphs">m</text>
<text x="1103.39" y="1053.39" font-size="28.18" font-style="italic" textLength="16.62" lengthAdjust="spacingAndGlyphs">g</text>
<text x="1118.94" y="1060.15" font-size="19.57" font-style="italic" textLength="11.08" lengthAdjust="spacingAndGlyphs">κ</text>
<text x="1137.93" y="1057.75" font-size="35.6" textLength="23.69" lengthAdjust="spacingAndGlyphs">=</text>
<text x="1167.84" y="1053.65" font-size="30.08" textLength="16.37" lengthAdjust="spacingAndGlyphs">5</text>
<text x="1183.6" y="1057.53" font-size="37.53" textLength="23.95" lengthAdjust="spacingAndGlyphs">×</text>
<text x="1206.18" y="1053.65" font-size="29.63" textLength="33.14" lengthAdjust="spacingAndGlyphs">10</text>
<text x="1239.92" y="1045.29" font-size="28" textLength="16.74" lengthAdjust="spacingAndGlyphs">−</text>
<text x="1258.17" y="1042.64" font-size="20.6">5</text>
<text x="1267.98" y="1053.69" font-size="25.83" font-style="italic" textLength="21.52" lengthAdjust="spacingAndGlyphs">ω</text>
<text x="1288.54" y="1060.15" font-size="20.64" textLength="17.96" lengthAdjust="spacingAndGlyphs">m</text>
<line x1="1489.3" y1="644.6" x2="1971.3" y2="644.6" stroke="#b0b0b0" stroke-width="2" stroke-dasharray="2 5.6"/>
<line x1="1489.3" y1="789.7" x2="1971.3" y2="789.7" stroke="#b0b0b0" stroke-width="2" stroke-dasharray="2 5.6"/>
<line x1="1489.3" y1="934.3" x2="1971.3" y2="934.3" stroke="#b0b0b0" stroke-width="2" stroke-dasharray="2 5.6"/>
<line x1="1489.3" y1="1079" x2="1971.3" y2="1079" stroke="#b0b0b0" stroke-width="2" stroke-dasharray="2 5.6"/>
<path d="M1530.5,933 L1530.55,933.1 L1530.59,933.19 L1530.62,933.3 L1530.65,933.4 L1530.67,933.51 L1530.69,933.63 L1530.72,933.76 L1530.74,933.89 L1530.78,934.03 L1530.81,934.18 L1530.86,934.33 L1530.91,934.5 L1530.98,934.68 L1531.06,934.87 L1531.15,935.07 L1531.27,935.28 L1531.4,935.5 L1531.55,935.74 L1531.72,936 L1531.92,936.26 L1532.15,936.55 L1532.4,936.85 L1532.69,937.17 L1533,937.5 L1533.34,937.86 L1533.69,938.24 L1534.05,938.64 L1534.43,939.07 L1534.83,939.52 L1535.24,939.98 L1535.67,940.47 L1536.12,940.96 L1536.59,941.47 L1537.08,941.99 L1537.58,942.52 L1538.11,943.06 L1538.66,943.61 L1539.24,944.16 L1539.83,944.71 L1540.46,945.26 L1541.1,945.81 L1541.78,946.36 L1542.47,946.9 L1543.2,947.44 L1543.96,947.97 L1544.74,948.49 L1544.84,948.56 M1571.3,959.81 L1572.21,960.17 L1573.28,960.59 L1574.3,961 M1574.3,961 L1575.28,961.4 L1576.22,961.79 L1577.12,962.16 L1578,962.52 L1578.84,962.87 L1579.67,963.22 L1580.47,963.55 L1581.26,963.88 L1582.03,964.2 L1582.79,964.52 L1583.54,964.83 L1584.29,965.14 L1585.04,965.45 L1585.8,965.75 L1586.55,966.06 L1587.32,966.37 L1588.1,966.68 L1588.9,966.99 L1589.72,967.31 L1590.55,967.63 L1591.42,967.96 L1592.31,968.3 L1593.24,968.64 L1594.2,969 L1594.25,969.02 M1621.4,978.3 L1622.36,978.65 L1623.29,979 L1624.18,979.34 L1625.05,979.68 L1625.89,980.01 L1626.7,980.34 L1627.5,980.66 L1628.28,980.99 L1629.05,981.3 L1629.81,981.62 L1630.56,981.94 L1631.31,982.25 L1632.06,982.56 L1632.82,982.88 L1633.58,983.2 L1634.35,983.51 L1635.14,983.84 L1635.94,984.16 L1636.76,984.49 L1637.61,984.82 L1638.48,985.16 L1639.39,985.5 L1640.33,985.85 L1641.3,986.2 L1641.38,986.23 M1668.69,995.36 L1669.1,995.5 M1669.1,995.5 L1670.07,995.83 L1671,996.14 L1671.89,996.45 L1672.75,996.74 L1673.58,997.02 L1674.38,997.3 L1675.16,997.57 L1675.92,997.83 L1676.67,998.09 L1677.41,998.35 L1678.14,998.6 L1678.88,998.86 L1679.61,999.11 L1680.35,999.37 L1681.1,999.63 L1681.87,999.89 L1682.65,1000.16 L1683.46,1000.43 L1684.29,1000.72 L1685.16,1001.01 L1686.05,1001.31 L1686.99,1001.63 L1687.97,1001.96 L1689,1002.3 L1689.45,1002.45 M1699.61,1005.85 L1699.83,1005.93 L1701.15,1006.37 L1702.48,1006.81 L1703.83,1007.26 L1705.17,1007.7 L1706.53,1008.15 L1707.88,1008.59 L1709.23,1009.03 L1710.58,1009.47 L1711.92,1009.9 L1713.24,1010.32 L1714.56,1010.74 L1715.85,1011.15 L1717.12,1011.54 L1718.38,1011.93 L1719.6,1012.3 L1720.08,1012.44 M1747.1,1019.8 L1747.97,1020.02 L1748.77,1020.22 L1749.51,1020.39 L1750.2,1020.55 L1750.84,1020.7 L1751.44,1020.83 L1752.01,1020.95 L1752.55,1021.06 L1753.07,1021.16 L1753.58,1021.26 L1754.08,1021.36 L1754.58,1021.46 L1755.09,1021.56 L1755.61,1021.66 L1756.15,1021.77 L1756.71,1021.89 L1757.31,1022.01 L1757.95,1022.16 L1758.64,1022.31 L1759.38,1022.49 L1760.18,1022.68 L1761.04,1022.9 L1761.98,1023.13 L1763,1023.4 L1764.08,1023.69 L1765.21,1023.99 L1766.37,1024.3 L1767.58,1024.63 L1768.02,1024.75 M1781.63,1028.54 L1783.08,1028.95 L1784.66,1029.4 L1786.26,1029.85 L1787.89,1030.32 L1789.53,1030.78 L1791.19,1031.26 L1792.87,1031.74 L1794.57,1032.22 L1796.28,1032.71 L1798,1033.2 L1799.75,1033.7 L1801.54,1034.21 L1802.3,1034.43 M1830.12,1042.5 L1831.54,1042.91 L1833.62,1043.52 L1835.71,1044.13 L1837.79,1044.73 L1839.86,1045.33 L1841.92,1045.93 L1843.97,1046.52 L1846,1047.1 L1848.02,1047.68 L1850.04,1048.26 L1850.77,1048.47 M1878.58,1056.47 L1880.43,1056.99 L1882.49,1057.58 L1884.55,1058.16 L1886.62,1058.75 L1888.71,1059.33 L1890.79,1059.92 L1892.89,1060.51 L1895,1061.1 L1897.16,1061.7 L1899.28,1062.29 M1926.99,1069.87 L1929.11,1070.44 L1931.44,1071.07 L1933.69,1071.68 L1935.85,1072.27 L1937.9,1072.82 L1939.85,1073.35 L1941.66,1073.84 L1943.33,1074.29 L1944.86,1074.71 L1946.22,1075.08 L1947.4,1075.4" stroke="#ff0000" stroke-width="7" fill="none" />
<path d="M1495.4,644.2 C1504.5,644.58 1532.57,645.35 1550,646.5 C1567.43,647.65 1582.68,648.82 1600,651.1 C1617.32,653.38 1636.65,656.72 1653.9,660.2 C1671.15,663.68 1689.13,667.15 1703.5,672 C1717.87,676.85 1729.68,683 1740.1,689.3 C1750.52,695.6 1759.52,703.52 1766,709.8 C1772.48,716.08 1776.37,721.8 1779,727 C1781.63,732.2 1781.33,738.67 1781.8,741" stroke="#ff0000" stroke-width="4.3" />
<path d="M1781.5,746 C1780.72,748.58 1778.48,757.12 1776.8,761.5 C1775.12,765.88 1774.27,767.8 1771.4,772.3 C1768.53,776.8 1763.73,783.12 1759.6,788.5 C1755.47,793.88 1752,799.4 1746.6,804.6 C1741.2,809.8 1733.67,815.02 1727.2,819.7 C1720.73,824.38 1714.63,828.02 1707.8,832.7 C1700.97,837.38 1693.38,843.5 1686.2,847.8 C1679.02,852.1 1671.88,854.55 1664.7,858.5 C1657.52,862.45 1651.02,867.18 1643.1,871.5 C1635.18,875.82 1628.43,878.65 1617.2,884.4 C1605.97,890.15 1587.73,899.9 1575.7,906 C1563.67,912.1 1552.75,916.42 1545,921 C1537.25,925.58 1531.83,931.42 1529.2,933.5" stroke="#ff0000" stroke-width="5.8" stroke-dasharray="2 9.6" />
<path d="M1523.2,938.8 L1523.35,938.85 L1523.51,938.89 L1523.67,938.94 L1523.84,938.99 L1524.02,939.04 L1524.2,939.09 L1524.39,939.15 L1524.6,939.2 L1524.82,939.27 L1525.05,939.33 L1525.3,939.4 L1525.56,939.48 L1525.84,939.57 L1526.15,939.66 L1526.47,939.76 L1526.81,939.86 L1527.18,939.98 L1527.57,940.11 L1527.99,940.24 L1528.43,940.39 L1528.9,940.55 L1529.4,940.72 L1529.94,940.9 L1530.5,941.1 M1530.5,941.1 L1531.1,941.31 L1531.73,941.53 L1532.4,941.77 L1533.1,942.02 L1533.82,942.27 L1534.58,942.54 L1535.36,942.82 L1536.16,943.11 L1536.99,943.4 L1537.84,943.71 L1538.71,944.02 L1539.6,944.34 L1540.5,944.67 L1541.42,945.01 L1542.36,945.35 L1543.3,945.69 L1544.26,946.04 L1545.22,946.4 L1546.19,946.76 L1547.17,947.12 L1548.15,947.49 L1549.13,947.86 L1550.12,948.23 L1550.7,948.45 M1577.6,959 L1578.57,959.35 L1579.5,959.69 L1580.41,960.01 L1581.3,960.31 L1582.16,960.61 L1583.01,960.89 L1583.84,961.16 L1584.66,961.43 L1585.47,961.69 L1586.27,961.95 L1587.06,962.2 L1587.86,962.45 L1588.65,962.7 L1589.45,962.95 L1590.25,963.21 L1591.06,963.47 L1591.89,963.74 L1592.72,964.01 L1593.58,964.29 L1594.45,964.59 L1595.35,964.89 L1596.27,965.21 L1597.22,965.55 L1597.99,965.82 M1624.88,976.12 L1625.4,976.3 M1625.4,976.3 L1626.38,976.63 L1627.32,976.94 L1628.24,977.24 L1629.13,977.51 L1629.99,977.78 L1630.84,978.02 L1631.67,978.26 L1632.48,978.49 L1633.28,978.71 L1634.08,978.92 L1634.87,979.13 L1635.65,979.34 L1636.43,979.55 L1637.22,979.76 L1638.02,979.98 L1638.82,980.2 L1639.63,980.43 L1640.46,980.67 L1641.31,980.92 L1642.17,981.18 L1643.06,981.46 L1643.98,981.75 L1644.92,982.07 L1645.9,982.4 L1646,982.44 M1673.1,992.9 L1674.07,993.23 L1675.02,993.55 L1675.95,993.85 L1676.85,994.14 L1677.74,994.42 L1678.62,994.68 L1679.48,994.94 L1680.32,995.19 L1681.15,995.42 L1681.97,995.65 L1682.79,995.88 L1683.59,996.1 L1684.38,996.32 L1685.17,996.53 L1685.95,996.75 L1686.73,996.96 L1687.51,997.17 L1688.29,997.39 L1689.06,997.61 L1689.84,997.84 L1690.62,998.07 L1691.41,998.3 L1692.2,998.55 L1693,998.8 L1693.7,999.03 M1711.6,1005.3 L1712.41,1005.56 L1713.21,1005.81 L1714.01,1006.05 L1714.8,1006.28 L1715.59,1006.51 L1716.37,1006.73 L1717.15,1006.95 L1717.94,1007.17 L1718.73,1007.39 L1719.53,1007.61 L1720.33,1007.83 L1721.14,1008.06 L1721.96,1008.28 L1722.79,1008.52 L1723.64,1008.76 L1724.5,1009 L1725.39,1009.26 L1726.29,1009.53 L1727.21,1009.8 L1728.15,1010.09 L1729.12,1010.4 L1730.12,1010.71 L1731.14,1011.05 L1732.2,1011.4 L1732.21,1011.4 M1759.07,1021.29 L1760.25,1021.69 L1761.63,1022.15 L1763,1022.6 L1764.37,1023.04 L1765.73,1023.46 L1767.09,1023.88 L1768.44,1024.29 L1769.79,1024.69 L1771.15,1025.09 L1772.51,1025.48 L1773.87,1025.87 L1775.25,1026.26 L1776.63,1026.64 L1778.02,1027.03 L1779.42,1027.42 L1779.66,1027.48 M1793.89,1031.42 L1794.61,1031.63 L1796.29,1032.11 L1798,1032.6 L1799.75,1033.11 L1801.54,1033.63 L1803.37,1034.17 L1805.24,1034.71 L1807.13,1035.27 L1809.06,1035.84 L1811.02,1036.42 L1813,1037 L1814.53,1037.45 M1842.16,1045.58 L1842.5,1045.68 M1842.5,1045.68 L1843.97,1046.11 L1846,1046.7 L1848.02,1047.29 L1850.05,1047.87 L1852.08,1048.46 L1854.12,1049.04 L1856.16,1049.63 L1858.2,1050.22 L1860.25,1050.81 L1862.3,1051.39 L1863.15,1051.64 M1890.95,1059.55 L1892.98,1060.13 L1895,1060.7 L1897.04,1061.28 L1899.13,1061.87 L1901.26,1062.47 L1903.42,1063.08 L1905.6,1063.7 L1907.8,1064.32 L1910.01,1064.95 L1911.64,1065.41 M1939.34,1073.19 L1940.09,1073.4 L1941.59,1073.81 L1943,1074.2 L1944.32,1074.56 L1945.56,1074.9 L1946.72,1075.22 L1947.82,1075.51 L1948.86,1075.79 L1949.83,1076.04 L1950.74,1076.28 L1951.59,1076.5 L1952.39,1076.71 L1953.14,1076.9 L1953.84,1077.08 L1954.5,1077.24 L1955.12,1077.4 L1955.69,1077.54 L1956.23,1077.67 L1956.74,1077.8 L1957.22,1077.91 L1957.67,1078.02 L1958.1,1078.13 L1958.51,1078.23 L1958.9,1078.32 L1959.28,1078.42 L1959.64,1078.51 L1960,1078.6" stroke="#0000ff" stroke-width="7" fill="none" />
<path d="M1495.4,644.2 C1504.5,644.42 1532.57,644.7 1550,645.5 C1567.43,646.3 1582.68,647.08 1600,649 C1617.32,650.92 1635.93,653.52 1653.9,657 C1671.87,660.48 1691.63,664.52 1707.8,669.9 C1723.97,675.28 1739.4,683.02 1750.9,689.3 C1762.4,695.58 1770.33,702.03 1776.8,707.6 C1783.27,713.17 1786.9,717.3 1789.7,722.7 C1792.5,728.1 1792.95,737.12 1793.6,740" stroke="#0000ff" stroke-width="4.3" />
<path d="M1793.5,746 C1792.87,748.58 1791.23,757.3 1789.7,761.5 C1788.17,765.7 1787.53,766.52 1784.3,771.2 C1781.07,775.88 1775.15,783.67 1770.3,789.6 C1765.45,795.53 1760.58,801.42 1755.2,806.8 C1749.82,812.18 1744.1,817.23 1738,821.9 C1731.9,826.57 1725.43,830.13 1718.6,834.8 C1711.77,839.47 1704.18,845.22 1697,849.9 C1689.82,854.58 1682.68,858.95 1675.5,862.9 C1668.32,866.85 1661.45,870.02 1653.9,873.6 C1646.35,877.18 1639.72,879.7 1630.2,884.4 C1620.68,889.1 1609.4,896.08 1596.8,901.8 C1584.2,907.52 1566.92,914.13 1554.6,918.7 C1542.28,923.27 1528.18,927.45 1522.9,929.2" stroke="#0000ff" stroke-width="5.8" stroke-dasharray="2 9.6" />
<path d="M1495.4,643.1 C1512.83,643.15 1571.78,642.65 1600,643.4 C1628.22,644.15 1645.65,645.33 1664.7,647.6 C1683.75,649.87 1697.77,653.28 1714.3,657 C1730.83,660.72 1750.62,665.78 1763.9,669.9 C1777.18,674.02 1784.67,677.22 1794,681.7 C1803.33,686.18 1812.7,691.4 1819.9,696.8 C1827.1,702.2 1833.07,708.7 1837.2,714.1 C1841.33,719.5 1843.27,724.88 1844.7,729.2 C1846.13,733.52 1845.62,738.2 1845.8,740" stroke="#00ff00" stroke-width="4.3" />
<path d="M1845.8,746 C1845.27,748.58 1844.4,756.75 1842.6,761.5 C1840.8,766.25 1838.07,769.82 1835,774.5 C1831.93,779.18 1828.87,784.22 1824.2,789.6 C1819.53,794.98 1812.75,801.78 1807,806.8 C1801.25,811.82 1796.88,814.32 1789.7,819.7 C1782.52,825.08 1772.52,833.35 1763.9,839.1 C1755.28,844.85 1746.63,849.17 1738,854.2 C1729.37,859.23 1720.73,864.62 1712.1,869.3 C1703.47,873.98 1694.88,877.68 1686.2,882.3 C1677.52,886.92 1667.85,892.05 1660,897 C1652.15,901.95 1645.77,907.33 1639.1,912 C1632.43,916.67 1624.68,922 1620,925 C1615.32,928 1612.5,929.17 1611,930" stroke="#00ff00" stroke-width="5.8" stroke-dasharray="2 9.6" />
<path d="M1610.1,930.5 L1610.13,930.68 L1610.15,930.89 L1610.18,931.12 L1610.2,931.38 L1610.23,931.66 L1610.26,931.96 L1610.28,932.28 L1610.31,932.61 L1610.34,932.96 L1610.38,933.32 L1610.41,933.69 L1610.46,934.06 L1610.5,934.45 L1610.56,934.83 L1610.61,935.22 L1610.68,935.61 L1610.75,936 L1610.83,936.38 L1610.92,936.76 L1611.01,937.13 L1611.02,937.15 M1611.02,937.15 L1611.12,937.49 L1611.24,937.84 L1611.36,938.18 L1611.5,938.5 L1611.65,938.81 L1611.8,939.12 L1611.96,939.42 L1612.12,939.73 L1612.29,940.03 L1612.47,940.33 L1612.66,940.62 L1612.85,940.92 L1613.05,941.21 L1613.25,941.5 L1613.47,941.79 L1613.69,942.08 L1613.92,942.37 L1614.15,942.66 L1614.4,942.94 L1614.65,943.23 L1614.91,943.51 L1615.18,943.79 L1615.46,944.08 L1615.75,944.36 L1616.05,944.65 L1616.36,944.93 L1616.67,945.21 L1617,945.5 L1617.33,945.78 L1617.65,946.05 L1617.96,946.31 L1618.27,946.56 L1618.58,946.8 L1618.89,947.04 L1619.21,947.27 L1619.53,947.5 L1619.86,947.74 L1620.21,947.97 L1620.56,948.2 L1620.93,948.44 L1621.32,948.69 L1621.73,948.94 L1622.16,949.2 L1622.61,949.47 L1623.09,949.76 L1623.6,950.05 L1624.14,950.37 L1624.72,950.69 L1625.33,951.04 L1625.98,951.4 L1626.26,951.56 M1651.72,965.02 L1652.21,965.25 L1653.2,965.7 M1653.2,965.7 L1654.15,966.13 L1655.08,966.53 L1655.98,966.91 L1656.87,967.27 L1657.73,967.61 L1658.58,967.94 L1659.41,968.26 L1660.23,968.56 L1661.05,968.85 L1661.85,969.13 L1662.66,969.41 L1663.46,969.68 L1664.26,969.95 L1665.06,970.22 L1665.87,970.48 L1666.69,970.75 L1667.52,971.02 L1668.36,971.3 L1669.21,971.59 L1670.09,971.89 L1670.98,972.19 L1671.89,972.51 L1672.83,972.85 L1673.39,973.05 M1700.3,983 L1701.27,983.35 L1702.21,983.69 L1703.12,984.02 L1704.01,984.34 L1704.88,984.65 L1705.73,984.96 L1706.57,985.25 L1707.4,985.55 L1708.21,985.84 L1709.02,986.12 L1709.82,986.41 L1710.62,986.69 L1711.42,986.97 L1712.22,987.25 L1713.02,987.53 L1713.84,987.82 L1714.66,988.11 L1715.49,988.4 L1716.34,988.7 L1717.21,989 L1718.1,989.31 L1719.01,989.63 L1719.94,989.96 L1720.56,990.18 M1747.1,999.5 L1748,999.81 L1748.87,1000.11 L1749.71,1000.4 L1750.53,1000.68 L1751.32,1000.95 L1752.09,1001.21 L1752.83,1001.46 L1753.57,1001.71 L1754.28,1001.95 L1754.99,1002.19 L1755.69,1002.43 L1756.38,1002.66 L1757.06,1002.88 L1757.74,1003.11 L1758.43,1003.34 L1759.11,1003.57 L1759.8,1003.8 L1760.5,1004.03 L1761.21,1004.26 L1761.93,1004.5 L1762.67,1004.74 L1763.43,1004.99 L1764.2,1005.24 L1764.79,1005.43 M1764.79,1005.43 L1765,1005.5 L1765.8,1005.76 L1766.59,1006.02 L1767.36,1006.27 L1768.13,1006.52 L1768.89,1006.77 L1769.65,1007.01 L1770.4,1007.26 L1771.16,1007.5 L1771.92,1007.75 L1772.69,1007.99 L1773.48,1008.24 L1774.28,1008.5 L1775.09,1008.76 L1775.92,1009.03 L1776.78,1009.3 L1777.66,1009.58 L1778.57,1009.87 L1779.52,1010.16 L1780.49,1010.47 L1781.51,1010.79 L1782.56,1011.12 L1783.66,1011.47 L1784.81,1011.83 L1785.27,1011.97 M1812.59,1020.44 L1814.04,1020.88 L1815.68,1021.39 L1817.31,1021.89 L1818.91,1022.38 L1820.47,1022.87 L1822.01,1023.34 L1823.5,1023.8 L1824.95,1024.25 L1826.37,1024.69 L1827.75,1025.11 L1829.11,1025.53 L1830.44,1025.94 L1831.75,1026.35 L1833.04,1026.75 L1833.13,1026.78 M1845.74,1030.67 L1846.04,1030.76 L1847.44,1031.19 L1848.87,1031.62 L1850.34,1032.07 L1851.86,1032.53 L1853.42,1033.01 L1855.03,1033.5 L1856.7,1034 L1858.42,1034.52 L1860.2,1035.05 L1862.01,1035.6 L1863.87,1036.16 L1865.77,1036.73 L1866.32,1036.9 M1894.1,1045.19 L1894.67,1045.35 L1896.76,1045.97 L1898.85,1046.59 L1900.92,1047.2 L1902.97,1047.8 L1905,1048.4 L1907.05,1049 L1909.15,1049.62 L1911.31,1050.24 L1913.51,1050.88 L1914.73,1051.24 M1942.61,1059.28 L1944.01,1059.68 L1945.85,1060.21 L1947.59,1060.71 L1949.24,1061.18 L1950.77,1061.62 L1952.2,1062.03 L1953.5,1062.4 L1954.68,1062.74 L1955.76,1063.04 L1956.74,1063.32 L1957.62,1063.57 L1958.41,1063.79 L1959.12,1063.99 L1959.76,1064.17 L1960.32,1064.33 L1960.82,1064.46 L1961.26,1064.58 L1961.64,1064.69 L1961.98,1064.78 L1962.28,1064.85 L1962.53,1064.92 L1962.76,1064.98 L1962.97,1065.03 L1963.15,1065.08 L1963.3,1065.11" stroke="#00ff00" stroke-width="7" fill="none" />
<text x="1586.76" y="683.3" font-size="30.23" textLength="11.81" lengthAdjust="spacingAndGlyphs">I</text>
<text x="1688.51" y="1044.7" font-size="30.08" textLength="23.64" lengthAdjust="spacingAndGlyphs">II</text>
<rect x="1726.1" y="870" width="20.6" height="19.2" fill="#ff0000" stroke="#9a9a9a" stroke-width="1.2"/>
<rect x="1726.1" y="918.4" width="20.6" height="19.2" fill="#0000ff" stroke="#9a9a9a" stroke-width="1.2"/>
<rect x="1726.1" y="967.1" width="20.6" height="19.2" fill="#00ff00" stroke="#9a9a9a" stroke-width="1.2"/>
<text x="1758.29" y="883.54" font-size="28.18" font-style="italic" textLength="16.62" lengthAdjust="spacingAndGlyphs">g</text>
<text x="1773.84" y="890.3" font-size="19.57" font-style="italic" textLength="11.08" lengthAdjust="spacingAndGlyphs">κ</text>
<text x="1792.83" y="887.9" font-size="35.6" textLength="23.69" lengthAdjust="spacingAndGlyphs">=</text>
<text x="1822.62" y="883.8" font-size="29.63" textLength="17.26" lengthAdjust="spacingAndGlyphs">0</text>
<text x="1758.29" y="934.04" font-size="28.18" font-style="italic" textLength="16.62" lengthAdjust="spacingAndGlyphs">g</text>
<text x="1773.84" y="940.8" font-size="19.57" font-style="italic" textLength="11.08" lengthAdjust="spacingAndGlyphs">κ</text>
<text x="1792.83" y="938.4" font-size="35.6" textLength="23.69" lengthAdjust="spacingAndGlyphs">=</text>
<text x="1822.52" y="934.3" font-size="29.63" textLength="33.83" lengthAdjust="spacingAndGlyphs">10</text>
<text x="1856.99" y="925.94" font-size="28" textLength="15.89" lengthAdjust="spacingAndGlyphs">−</text>
<text x="1874.37" y="923.29" font-size="20.6" textLength="11.12" lengthAdjust="spacingAndGlyphs">5</text>
<text x="1884.97" y="934.34" font-size="25.83" font-style="italic" textLength="20.85" lengthAdjust="spacingAndGlyphs">ω</text>
<text x="1905.52" y="940.8" font-size="20.64" textLength="18.69" lengthAdjust="spacingAndGlyphs">m</text>
<text x="1758.29" y="980.59" font-size="28.18" font-style="italic" textLength="16.62" lengthAdjust="spacingAndGlyphs">g</text>
<text x="1773.84" y="987.35" font-size="19.57" font-style="italic" textLength="11.08" lengthAdjust="spacingAndGlyphs">κ</text>
<text x="1792.83" y="984.95" font-size="35.6" textLength="23.69" lengthAdjust="spacingAndGlyphs">=</text>
<text x="1822.74" y="980.85" font-size="30.08" textLength="16.37" lengthAdjust="spacingAndGlyphs">5</text>
<text x="1838.5" y="984.73" font-size="37.53" textLength="23.95" lengthAdjust="spacingAndGlyphs">×</text>
<text x="1861.08" y="980.85" font-size="29.63" textLength="33.14" lengthAdjust="spacingAndGlyphs">10</text>
<text x="1894.82" y="972.49" font-size="28" textLength="16.74" lengthAdjust="spacingAndGlyphs">−</text>
<text x="1913.07" y="969.84" font-size="20.6">5</text>
<text x="1922.88" y="980.89" font-size="25.83" font-style="italic" textLength="21.52" lengthAdjust="spacingAndGlyphs">ω</text>
<text x="1943.44" y="987.35" font-size="20.64" textLength="17.96" lengthAdjust="spacingAndGlyphs">m</text>
</g>
<rect x="149.35" y="17.45" width="486" height="485.5" fill="none" stroke="#000" stroke-width="4.3"/>
<rect x="832.15" y="17.55" width="487.3" height="486.2" fill="none" stroke="#000" stroke-width="4.3"/>
<rect x="1487.35" y="17.85" width="483.9" height="483.6" fill="none" stroke="#000" stroke-width="4.3"/>
<rect x="148.65" y="618.15" width="488.2" height="487.5" fill="none" stroke="#000" stroke-width="4.3"/>
<rect x="834.35" y="618.15" width="486.3" height="485.2" fill="none" stroke="#000" stroke-width="4.3"/>
<rect x="1485.15" y="618.45" width="489.3" height="489" fill="none" stroke="#000" stroke-width="4.3"/>
<rect x="156.3" y="500.3" width="4.6" height="3" fill="#8a8a8a"/>
<rect x="390.2" y="500.3" width="4.6" height="3" fill="#8a8a8a"/>
<rect x="623.3" y="500.3" width="4.6" height="3" fill="#8a8a8a"/>
<rect x="149" y="23.9" width="3" height="4.6" fill="#8a8a8a"/>
<rect x="149" y="247.4" width="3" height="4.6" fill="#8a8a8a"/>
<rect x="149" y="471" width="3" height="4.6" fill="#8a8a8a"/>
<rect x="839.9" y="501.1" width="4.6" height="3" fill="#8a8a8a"/>
<rect x="1073.5" y="501.1" width="4.6" height="3" fill="#8a8a8a"/>
<rect x="1307.1" y="501.1" width="4.6" height="3" fill="#8a8a8a"/>
<rect x="831.8" y="39.2" width="3" height="4.6" fill="#8a8a8a"/>
<rect x="831.8" y="218.8" width="3" height="4.6" fill="#8a8a8a"/>
<rect x="831.8" y="398.7" width="3" height="4.6" fill="#8a8a8a"/>
<rect x="831.8" y="470.6" width="3" height="4.6" fill="#8a8a8a"/>
<rect x="1494.6" y="498.8" width="4.6" height="3" fill="#8a8a8a"/>
<rect x="1727" y="498.8" width="4.6" height="3" fill="#8a8a8a"/>
<rect x="1959.5" y="498.8" width="4.6" height="3" fill="#8a8a8a"/>
<rect x="1487" y="39.1" width="3" height="4.6" fill="#8a8a8a"/>
<rect x="1487" y="191.6" width="3" height="4.6" fill="#8a8a8a"/>
<rect x="1487" y="343.7" width="3" height="4.6" fill="#8a8a8a"/>
<rect x="156.3" y="1103" width="4.6" height="3" fill="#8a8a8a"/>
<rect x="390.2" y="1103" width="4.6" height="3" fill="#8a8a8a"/>
<rect x="624" y="1103" width="4.6" height="3" fill="#8a8a8a"/>
<rect x="148.3" y="701.7" width="3" height="4.6" fill="#8a8a8a"/>
<rect x="148.3" y="1078.3" width="3" height="4.6" fill="#8a8a8a"/>
<rect x="842.2" y="1100.7" width="4.6" height="3" fill="#8a8a8a"/>
<rect x="1075.6" y="1100.7" width="4.6" height="3" fill="#8a8a8a"/>
<rect x="1308.5" y="1100.7" width="4.6" height="3" fill="#8a8a8a"/>
<rect x="834" y="649.9" width="3" height="4.6" fill="#8a8a8a"/>
<rect x="834" y="862.1" width="3" height="4.6" fill="#8a8a8a"/>
<rect x="834" y="1074.3" width="3" height="4.6" fill="#8a8a8a"/>
<rect x="1493.1" y="1104.8" width="4.6" height="3" fill="#8a8a8a"/>
<rect x="1726.5" y="1104.8" width="4.6" height="3" fill="#8a8a8a"/>
<rect x="1961.7" y="1104.8" width="4.6" height="3" fill="#8a8a8a"/>
<rect x="1484.8" y="642.3" width="3" height="4.6" fill="#8a8a8a"/>
<rect x="1484.8" y="932" width="3" height="4.6" fill="#8a8a8a"/>
<rect x="1484.8" y="1076.7" width="3" height="4.6" fill="#8a8a8a"/>
<text x="118.89" y="36.01" font-size="34.48" textLength="20.12" lengthAdjust="spacingAndGlyphs">3</text>
<text x="119.47" y="260.8" font-size="33.64" textLength="19.01" lengthAdjust="spacingAndGlyphs">1</text>
<text x="94.61" y="484.4" font-size="33.64" textLength="42.23" lengthAdjust="spacingAndGlyphs">−1</text>
<text x="771.48" y="52" font-size="33.24" textLength="49.02" lengthAdjust="spacingAndGlyphs">0.1</text>
<text x="801.65" y="412.36" font-size="34.07" textLength="19.4" lengthAdjust="spacingAndGlyphs">0</text>
<text x="727.75" y="483.5" font-size="33.53" textLength="91.55" lengthAdjust="spacingAndGlyphs">−0.02</text>
<text x="1456.94" y="52.7" font-size="33.64" textLength="19.15" lengthAdjust="spacingAndGlyphs">1</text>
<text x="1456.05" y="205.76" font-size="34.07" textLength="20.1" lengthAdjust="spacingAndGlyphs">0</text>
<text x="1431.71" y="357.3" font-size="33.64" textLength="42.23" lengthAdjust="spacingAndGlyphs">−1</text>
<text x="85.01" y="718.46" font-size="33.78" textLength="37.49" lengthAdjust="spacingAndGlyphs">10</text>
<text x="121.88" y="705.77" font-size="22.96" textLength="13.55" lengthAdjust="spacingAndGlyphs">8</text>
<text x="119.27" y="1092.66" font-size="34.07" textLength="19.17" lengthAdjust="spacingAndGlyphs">0</text>
<text x="771.48" y="663.2" font-size="33.24" textLength="49.02" lengthAdjust="spacingAndGlyphs">0.1</text>
<text x="801.65" y="1088.36" font-size="34.07" textLength="19.4" lengthAdjust="spacingAndGlyphs">0</text>
<text x="1455.54" y="655.5" font-size="33.64" textLength="19.15" lengthAdjust="spacingAndGlyphs">1</text>
<text x="1456.02" y="945.16" font-size="34.07" textLength="19.76" lengthAdjust="spacingAndGlyphs">0</text>
<text x="1401.1" y="1090.9" font-size="33.53" textLength="71.77" lengthAdjust="spacingAndGlyphs">−0.5</text>
<text x="149.08" y="536.56" font-size="34.07" textLength="19.05" lengthAdjust="spacingAndGlyphs">0</text>
<text x="354.39" y="536.56" font-size="34.07" textLength="75.47" lengthAdjust="spacingAndGlyphs">5000</text>
<text x="576.47" y="536.56" font-size="34.07" textLength="96.53" lengthAdjust="spacingAndGlyphs">10000</text>
<text x="832.68" y="536.56" font-size="34.07" textLength="19.05" lengthAdjust="spacingAndGlyphs">0</text>
<text x="1037.69" y="536.56" font-size="34.07" textLength="75.47" lengthAdjust="spacingAndGlyphs">5000</text>
<text x="1260.67" y="536.56" font-size="34.07" textLength="96.53" lengthAdjust="spacingAndGlyphs">10000</text>
<text x="1487.78" y="536.56" font-size="34.07" textLength="19.05" lengthAdjust="spacingAndGlyphs">0</text>
<text x="1692.39" y="536.56" font-size="34.07" textLength="75.47" lengthAdjust="spacingAndGlyphs">5000</text>
<text x="1914.87" y="536.56" font-size="34.07" textLength="96.53" lengthAdjust="spacingAndGlyphs">10000</text>
<text x="149.08" y="1141.66" font-size="34.07" textLength="19.05" lengthAdjust="spacingAndGlyphs">0</text>
<text x="382.67" y="1141.6" font-size="33.79" textLength="18.73" lengthAdjust="spacingAndGlyphs">1</text>
<text x="616.23" y="1141.6" font-size="33.79" textLength="19.93" lengthAdjust="spacingAndGlyphs">2</text>
<text x="834.98" y="1141.66" font-size="34.07" textLength="19.05" lengthAdjust="spacingAndGlyphs">0</text>
<text x="1068.07" y="1141.6" font-size="33.79" textLength="18.73" lengthAdjust="spacingAndGlyphs">1</text>
<text x="1301.23" y="1141.6" font-size="33.79" textLength="19.93" lengthAdjust="spacingAndGlyphs">2</text>
<text x="1485.88" y="1141.66" font-size="34.07" textLength="19.05" lengthAdjust="spacingAndGlyphs">0</text>
<text x="1718.97" y="1141.6" font-size="33.79" textLength="18.73" lengthAdjust="spacingAndGlyphs">1</text>
<text x="1954.43" y="1141.6" font-size="33.79" textLength="19.93" lengthAdjust="spacingAndGlyphs">2</text>
<text x="12.56" y="39.94" font-size="37.47" textLength="45.49" lengthAdjust="spacingAndGlyphs">(a)</text>
<text x="696.69" y="39.94" font-size="37.47" textLength="46.97" lengthAdjust="spacingAndGlyphs">(b)</text>
<text x="1368.98" y="39.94" font-size="37.47" textLength="42.55" lengthAdjust="spacingAndGlyphs">(c)</text>
<text x="12.58" y="642.94" font-size="37.47" textLength="47.08" lengthAdjust="spacingAndGlyphs">(d)</text>
<text x="696.76" y="642.94" font-size="37.47" textLength="42.98" lengthAdjust="spacingAndGlyphs">(e)</text>
<text x="1368.55" y="643.03" font-size="37.07" textLength="41.06" lengthAdjust="spacingAndGlyphs">(f)</text>
<text x="332.26" y="586.26" font-size="33.96" font-style="italic" textLength="14.5" lengthAdjust="spacingAndGlyphs">ε</text>
<text x="348.33" y="593.46" font-size="23.97" textLength="13.85" lengthAdjust="spacingAndGlyphs">d</text>
<text x="365.9" y="593.5" font-size="50">/</text>
<path d="M383.8,576 L386,574.6 L393,586 L399.6,555.6 L442.6,555.6" fill="none" stroke="#000" stroke-width="1.5" stroke-linejoin="miter"/>
<path d="M386.6,575 L393.2,585.6" stroke="#000" stroke-width="2.4"/>
<text x="399.82" y="585.59" font-size="31.25" font-style="italic" textLength="23.76" lengthAdjust="spacingAndGlyphs">ω</text>
<text x="423.18" y="593.7" font-size="22.98" textLength="20.25" lengthAdjust="spacingAndGlyphs">m</text>
<text x="1016.11" y="586.26" font-size="33.96" font-style="italic" textLength="14.5" lengthAdjust="spacingAndGlyphs">ε</text>
<text x="1032.18" y="593.46" font-size="23.97" textLength="13.85" lengthAdjust="spacingAndGlyphs">d</text>
<text x="1049.75" y="593.5" font-size="50">/</text>
<path d="M1067.65,576 L1069.85,574.6 L1076.85,586 L1083.45,555.6 L1126.45,555.6" fill="none" stroke="#000" stroke-width="1.5" stroke-linejoin="miter"/>
<path d="M1070.45,575 L1077.05,585.6" stroke="#000" stroke-width="2.4"/>
<text x="1083.67" y="585.59" font-size="31.25" font-style="italic" textLength="23.76" lengthAdjust="spacingAndGlyphs">ω</text>
<text x="1107.03" y="593.7" font-size="22.98" textLength="20.25" lengthAdjust="spacingAndGlyphs">m</text>
<text x="1670.96" y="586.26" font-size="33.96" font-style="italic" textLength="14.5" lengthAdjust="spacingAndGlyphs">ε</text>
<text x="1687.03" y="593.46" font-size="23.97" textLength="13.85" lengthAdjust="spacingAndGlyphs">d</text>
<text x="1704.6" y="593.5" font-size="50">/</text>
<path d="M1722.5,576 L1724.7,574.6 L1731.7,586 L1738.3,555.6 L1781.3,555.6" fill="none" stroke="#000" stroke-width="1.5" stroke-linejoin="miter"/>
<path d="M1725.3,575 L1731.9,585.6" stroke="#000" stroke-width="2.4"/>
<text x="1738.52" y="585.59" font-size="31.25" font-style="italic" textLength="23.76" lengthAdjust="spacingAndGlyphs">ω</text>
<text x="1761.88" y="593.7" font-size="22.98" textLength="20.25" lengthAdjust="spacingAndGlyphs">m</text>
<text x="297" y="1188.13" font-size="32.41" font-style="italic" textLength="19.04" lengthAdjust="spacingAndGlyphs">g</text>
<text x="314.12" y="1195.4" font-size="20.21" font-style="italic" textLength="15.8" lengthAdjust="spacingAndGlyphs">ω</text>
<text x="332.2" y="1195.61" font-size="49.25" textLength="14.24" lengthAdjust="spacingAndGlyphs">/</text>
<text x="347.83" y="1187.7" font-size="30.42" font-style="italic" textLength="23.65" lengthAdjust="spacingAndGlyphs">ω</text>
<text x="371.78" y="1196.1" font-size="22.98" textLength="20.36" lengthAdjust="spacingAndGlyphs">m</text>
<text x="407.48" y="1188.3" font-size="36.26" textLength="12.02" lengthAdjust="spacingAndGlyphs">(</text>
<text x="420.49" y="1187.67" font-size="32.89" textLength="37.71" lengthAdjust="spacingAndGlyphs">10</text>
<text x="459.59" y="1179.26" font-size="32" textLength="16.98" lengthAdjust="spacingAndGlyphs">−</text>
<text x="479.51" y="1175.38" font-size="21.79" textLength="12.86" lengthAdjust="spacingAndGlyphs">3</text>
<text x="493.54" y="1188.3" font-size="36.26" textLength="11.78" lengthAdjust="spacingAndGlyphs">)</text>
<text x="982.2" y="1188.13" font-size="32.41" font-style="italic" textLength="19.04" lengthAdjust="spacingAndGlyphs">g</text>
<text x="999.32" y="1195.4" font-size="20.21" font-style="italic" textLength="15.8" lengthAdjust="spacingAndGlyphs">ω</text>
<text x="1017.4" y="1195.61" font-size="49.25" textLength="14.24" lengthAdjust="spacingAndGlyphs">/</text>
<text x="1033.03" y="1187.7" font-size="30.42" font-style="italic" textLength="23.65" lengthAdjust="spacingAndGlyphs">ω</text>
<text x="1056.98" y="1196.1" font-size="22.98" textLength="20.36" lengthAdjust="spacingAndGlyphs">m</text>
<text x="1092.68" y="1188.3" font-size="36.26" textLength="12.02" lengthAdjust="spacingAndGlyphs">(</text>
<text x="1105.69" y="1187.67" font-size="32.89" textLength="37.71" lengthAdjust="spacingAndGlyphs">10</text>
<text x="1144.79" y="1179.26" font-size="32" textLength="16.98" lengthAdjust="spacingAndGlyphs">−</text>
<text x="1164.71" y="1175.38" font-size="21.79" textLength="12.86" lengthAdjust="spacingAndGlyphs">3</text>
<text x="1178.74" y="1188.3" font-size="36.26" textLength="11.78" lengthAdjust="spacingAndGlyphs">)</text>
<text x="1634.25" y="1188.13" font-size="32.41" font-style="italic" textLength="19.04" lengthAdjust="spacingAndGlyphs">g</text>
<text x="1651.37" y="1195.4" font-size="20.21" font-style="italic" textLength="15.8" lengthAdjust="spacingAndGlyphs">ω</text>
<text x="1669.45" y="1195.61" font-size="49.25" textLength="14.24" lengthAdjust="spacingAndGlyphs">/</text>
<text x="1685.08" y="1187.7" font-size="30.42" font-style="italic" textLength="23.65" lengthAdjust="spacingAndGlyphs">ω</text>
<text x="1709.03" y="1196.1" font-size="22.98" textLength="20.36" lengthAdjust="spacingAndGlyphs">m</text>
<text x="1744.73" y="1188.3" font-size="36.26" textLength="12.02" lengthAdjust="spacingAndGlyphs">(</text>
<text x="1757.74" y="1187.67" font-size="32.89" textLength="37.71" lengthAdjust="spacingAndGlyphs">10</text>
<text x="1796.84" y="1179.26" font-size="32" textLength="16.98" lengthAdjust="spacingAndGlyphs">−</text>
<text x="1816.76" y="1175.38" font-size="21.79" textLength="12.86" lengthAdjust="spacingAndGlyphs">3</text>
<text x="1830.79" y="1188.3" font-size="36.26" textLength="11.78" lengthAdjust="spacingAndGlyphs">)</text>
<g transform="translate(41.3,278.6) rotate(-90)">
<text x="0.61" y="0" font-size="33.19" font-style="italic" textLength="19.58" lengthAdjust="spacingAndGlyphs">n</text>
<text x="21.65" y="7.58" font-size="22.08" textLength="10.14" lengthAdjust="spacingAndGlyphs">s</text>
<text x="46.73" y="-0.11" font-size="36.81" textLength="13.84" lengthAdjust="spacingAndGlyphs">(</text>
<text x="59.99" y="-0.32" font-size="32.3" textLength="37.71" lengthAdjust="spacingAndGlyphs">10</text>
<text x="98.07" y="-13.04" font-size="24.33" textLength="11.63" lengthAdjust="spacingAndGlyphs">6</text>
<text x="111.86" y="-0.11" font-size="36.81" textLength="11.53" lengthAdjust="spacingAndGlyphs">)</text>
</g>
<g transform="translate(40.9,894) rotate(-90)">
<text x="0.98" y="0" font-size="31.91" font-style="italic" textLength="18.83" lengthAdjust="spacingAndGlyphs">n</text>
<text x="22.01" y="7.97" font-size="23.33" textLength="10.71" lengthAdjust="spacingAndGlyphs">s</text>
</g>
<g transform="translate(740.4,317.7) rotate(-90)">
<text x="-1.28" y="0" font-size="31.52" font-style="italic" textLength="17.51" lengthAdjust="spacingAndGlyphs">κ</text>
<text x="18.14" y="7.56" font-size="23.92" textLength="28.98" lengthAdjust="spacingAndGlyphs">eff</text>
<text x="49.8" y="7.32" font-size="48.06" textLength="14.14" lengthAdjust="spacingAndGlyphs">/</text>
<text x="65.78" y="-0.29" font-size="29.17" font-style="italic" textLength="22.64" lengthAdjust="spacingAndGlyphs">ω</text>
<text x="89.2" y="7.8" font-size="23.19" textLength="19.52" lengthAdjust="spacingAndGlyphs">m</text>
</g>
<g transform="translate(740.5,930.7) rotate(-90)">
<text x="-1.28" y="0" font-size="31.52" font-style="italic" textLength="17.51" lengthAdjust="spacingAndGlyphs">κ</text>
<text x="18.14" y="7.56" font-size="23.92" textLength="28.98" lengthAdjust="spacingAndGlyphs">eff</text>
<text x="49.8" y="7.32" font-size="48.06" textLength="14.14" lengthAdjust="spacingAndGlyphs">/</text>
<text x="65.78" y="-0.29" font-size="29.17" font-style="italic" textLength="22.64" lengthAdjust="spacingAndGlyphs">ω</text>
<text x="89.2" y="7.8" font-size="23.19" textLength="19.52" lengthAdjust="spacingAndGlyphs">m</text>
</g>
<g transform="translate(1402.3,319) rotate(-90)">
<text x="-1.18" y="0.09" font-size="31.25" font-style="italic" textLength="23.76" lengthAdjust="spacingAndGlyphs">ω</text>
<text x="21.63" y="7.56" font-size="23.92" textLength="29.08" lengthAdjust="spacingAndGlyphs">eff</text>
<text x="52.7" y="7.32" font-size="48.06" textLength="14.45" lengthAdjust="spacingAndGlyphs">/</text>
<text x="67.84" y="-0.29" font-size="29.17" font-style="italic" textLength="23.42" lengthAdjust="spacingAndGlyphs">ω</text>
<text x="91.26" y="7.8" font-size="23.19" textLength="20.99" lengthAdjust="spacingAndGlyphs">m</text>
</g>
<g transform="translate(1402.4,944.4) rotate(-90)">
<text x="-1.18" y="0.09" font-size="31.25" font-style="italic" textLength="23.76" lengthAdjust="spacingAndGlyphs">ω</text>
<text x="21.63" y="7.56" font-size="23.92" textLength="29.08" lengthAdjust="spacingAndGlyphs">eff</text>
<text x="52.7" y="7.32" font-size="48.06" textLength="14.45" lengthAdjust="spacingAndGlyphs">/</text>
<text x="67.84" y="-0.29" font-size="29.17" font-style="italic" textLength="23.42" lengthAdjust="spacingAndGlyphs">ω</text>
<text x="91.26" y="7.8" font-size="23.19" textLength="20.99" lengthAdjust="spacingAndGlyphs">m</text>
</g>
</svg>
</body></html>
